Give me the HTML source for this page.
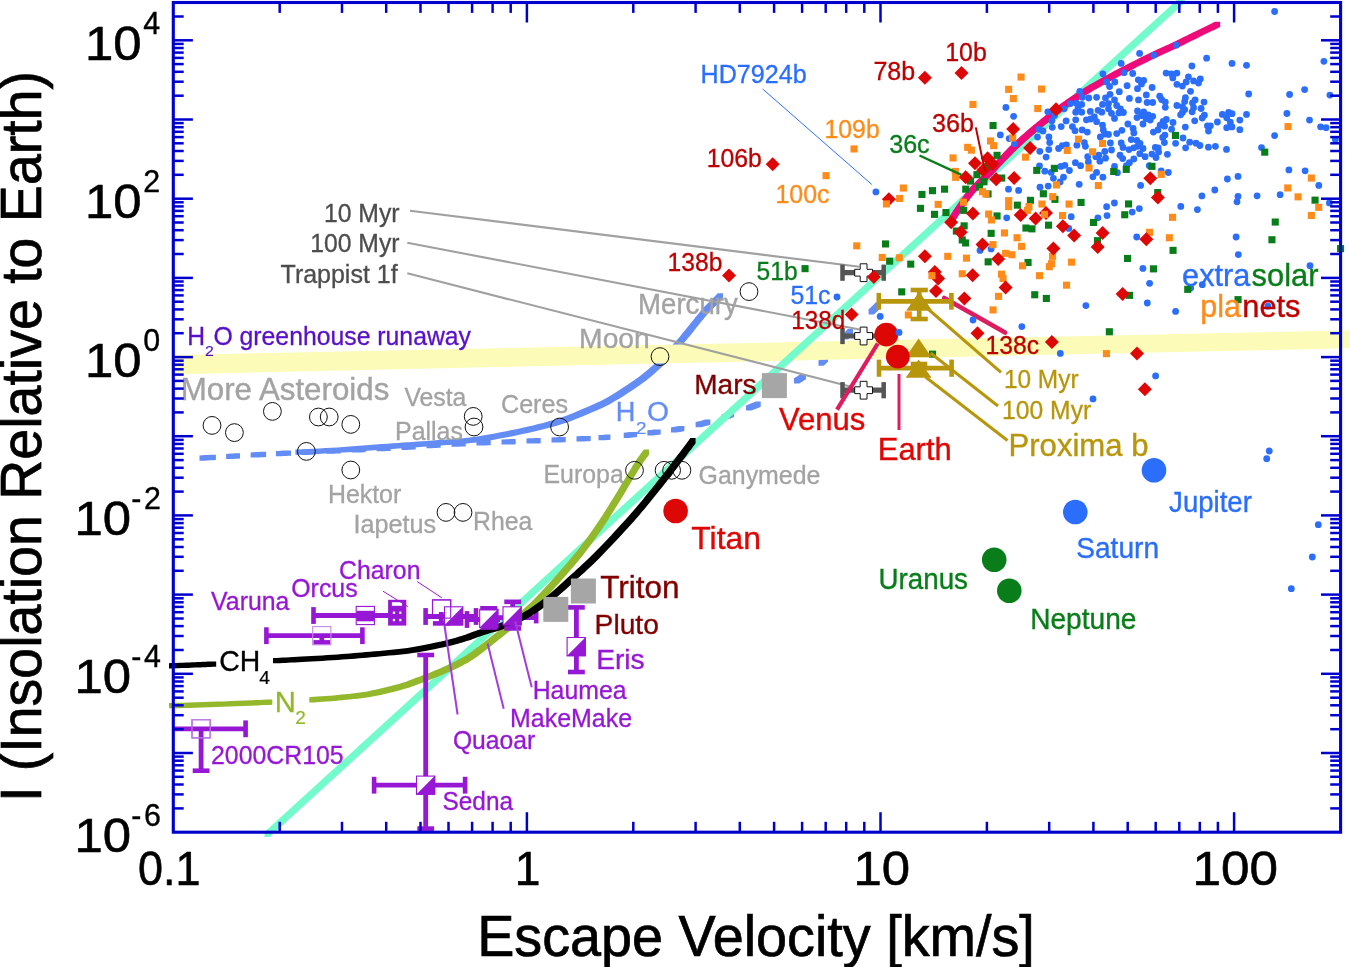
<!DOCTYPE html>
<html lang="en"><head><meta charset="utf-8"><title>Escape Velocity vs Insolation</title>
<style>html,body{margin:0;padding:0;background:#fff}svg{display:block}text{font-family:"Liberation Sans",Arial,Helvetica,sans-serif}</style></head><body>
<svg width="1350" height="967" viewBox="0 0 1350 967">
<rect width="1350" height="967" fill="#fff"/>
<path d="M295.4 454.8L295.4 449.6L298.6 449.4L302.8 449.2L307.7 449L313.3 448.7L319.2 448.4L325.4 448.1L331.5 447.8L337.4 447.4L343.3 447L349.6 446.6L356 446.1L362.5 445.6L369 445.1L375.4 444.6L381.6 444.1L387.4 443.7L392.9 443.3L398 443L403 442.6L407.8 442.3L412.5 442L417.4 441.6L422.3 441.3L427.4 440.9L432.7 440.5L438.1 440.1L443.5 439.8L449 439.4L454.6 439L460.2 438.5L465.8 437.9L471.4 437.2L477.1 436.4L482.9 435.5L488.8 434.5L494.7 433.4L500.5 432.3L506.3 431.2L511.9 430.1L517.4 428.9L522.7 427.7L528 426.6L533.1 425.4L538.2 424.1L543.1 422.9L547.9 421.6L552.5 420.3L557 418.9L561.3 417.5L565.5 416L569.5 414.4L573.4 412.9L577.2 411.3L580.7 409.8L584.2 408.3L587.4 406.9L590.3 405.7L592.9 404.6L595.2 403.6L597.4 402.6L599.6 401.6L601.9 400.4L604.5 399L607.4 397.4L610.7 395.4L614.4 393.2L618.4 390.7L622.4 388.1L626.4 385.5L630.4 382.8L634.1 380.3L637.4 377.9L640.4 375.7L643.1 373.6L645.6 371.5L648 369.5L650.3 367.5L652.6 365.4L655 363.2L657.4 360.9L659.9 358.4L662.4 355.9L664.9 353.3L667.4 350.6L669.9 347.9L672.4 345.1L674.9 342.3L677.4 339.4L680 336.4L682.7 333.1L685.5 329.7L688.3 326.2L690.9 322.9L693.4 319.9L695.6 317.1L697.4 314.9L698.8 313.2L699.8 311.9L700.6 311L701.1 310.3L701.5 309.8L702 309.3L702.5 308.7L703.1 308L703.8 307.2L704.6 306.5L705.3 305.8L706.1 305.1L706.9 304.3L707.7 303.6L708.5 302.8L709.4 301.9L710.4 300.9L711.5 299.7L712.8 298.4L714 297.2L715.2 295.9L716.2 294.8L717.1 293.9L717.8 293.2L723 293.2L723 298.4L722.3 299.1L721.4 300L720.4 301.1L719.2 302.4L718 303.6L716.7 304.9L715.6 306.1L714.6 307.1L713.7 308L712.9 308.8L712.1 309.5L711.3 310.3L710.5 311L709.8 311.7L709 312.4L708.3 313.2L707.7 313.9L707.2 314.5L706.7 315L706.3 315.5L705.8 316.2L705 317.1L704 318.4L702.6 320.1L700.8 322.3L698.6 325.1L696.1 328.1L693.5 331.4L690.7 334.9L687.9 338.3L685.2 341.6L682.6 344.6L680.1 347.5L677.6 350.3L675.1 353.1L672.6 355.8L670.1 358.5L667.6 361.1L665.1 363.6L662.6 366.1L660.2 368.4L657.8 370.6L655.5 372.7L653.2 374.7L650.8 376.7L648.3 378.8L645.6 380.9L642.6 383.1L639.3 385.5L635.6 388L631.6 390.7L627.6 393.3L623.6 395.9L619.6 398.4L615.9 400.6L612.6 402.6L609.7 404.2L607.1 405.6L604.8 406.8L602.6 407.8L600.4 408.8L598.1 409.8L595.5 410.9L592.6 412.1L589.4 413.5L585.9 415L582.4 416.5L578.6 418.1L574.7 419.6L570.7 421.2L566.5 422.7L562.2 424.1L557.7 425.5L553.1 426.8L548.3 428.1L543.4 429.3L538.3 430.6L533.2 431.8L527.9 432.9L522.6 434.1L517.1 435.3L511.5 436.4L505.7 437.5L499.9 438.6L494 439.7L488.1 440.7L482.3 441.6L476.6 442.4L471 443.1L465.4 443.7L459.8 444.2L454.2 444.6L448.7 445L443.3 445.3L437.9 445.7L432.6 446.1L427.5 446.5L422.6 446.8L417.7 447.2L413 447.5L408.2 447.8L403.2 448.2L398.1 448.5L392.6 448.9L386.8 449.3L380.6 449.8L374.2 450.3L367.7 450.8L361.2 451.3L354.8 451.8L348.5 452.2L342.6 452.6L336.7 453L330.6 453.3L324.4 453.6L318.5 453.9L312.9 454.2L308 454.4L303.8 454.6L300.6 454.8Z" fill="#648cf5"/>
<path d="M199.5 460.7L199.5 455.5L202.3 455.3L205.1 455.1L207.9 455L210.7 454.8L215.9 454.8L215.9 460L213.1 460.2L210.3 460.3L207.5 460.5L204.7 460.7Z" fill="#648cf5"/>
<path d="M226.1 459.1L226.1 453.9L228.3 453.7L230.5 453.6L232.6 453.5L234.8 453.3L240 453.3L240 458.5L237.8 458.7L235.7 458.8L233.5 458.9L231.3 459.1Z" fill="#648cf5"/>
<path d="M250.6 457.6L250.6 452.4L253.2 452.3L255.8 452.1L258.3 452L260.9 451.8L266.1 451.8L266.1 457L263.5 457.2L261 457.3L258.4 457.5L255.8 457.6Z" fill="#648cf5"/>
<path d="M275.9 456.2L275.9 451L278.4 450.9L280.8 450.7L283.3 450.6L285.8 450.5L291 450.5L291 455.7L288.5 455.8L286.1 455.9L283.6 456.1L281.1 456.2Z" fill="#648cf5"/>
<path d="M301.5 454.9L301.5 449.7L303.8 449.6L306 449.5L308.2 449.4L310.5 449.3L315.7 449.3L315.7 454.5L313.4 454.6L311.2 454.7L309 454.8L306.7 454.9Z" fill="#648cf5"/>
<path d="M326.5 453.8L326.5 448.6L328.8 448.5L331 448.4L333.2 448.3L335.5 448.2L340.7 448.2L340.7 453.4L338.4 453.5L336.2 453.6L334 453.7L331.7 453.8Z" fill="#648cf5"/>
<path d="M351.5 452.6L351.5 447.4L353.8 447.3L356 447.2L358.2 447.1L360.5 447L365.7 447L365.7 452.2L363.4 452.3L361.2 452.4L359 452.5L356.7 452.6Z" fill="#648cf5"/>
<path d="M376.5 451.3L376.5 446.1L378.8 446L381 445.9L383.2 445.8L385.5 445.7L390.7 445.7L390.7 450.9L388.4 451L386.2 451.1L384 451.2L381.7 451.3Z" fill="#648cf5"/>
<path d="M401.5 450L401.5 444.8L403.8 444.6L406 444.5L408.2 444.3L410.5 444.2L415.7 444.2L415.7 449.4L413.4 449.5L411.2 449.7L409 449.8L406.7 450Z" fill="#648cf5"/>
<path d="M426.5 448.3L426.5 443.1L428.8 442.9L431 442.8L433.2 442.6L435.5 442.5L440.7 442.5L440.7 447.7L438.4 447.8L436.2 448L434 448.1L431.7 448.3Z" fill="#648cf5"/>
<path d="M451.5 446.8L451.5 441.6L453.8 441.5L456 441.4L458.2 441.3L460.5 441.2L465.7 441.2L465.7 446.4L463.4 446.5L461.2 446.6L459 446.7L456.7 446.8Z" fill="#648cf5"/>
<path d="M476.5 445.6L476.5 440.4L478.8 440.3L481 440.2L483.2 440.1L485.5 440.1L490.7 440.1L490.7 445.3L488.4 445.3L486.2 445.4L484 445.5L481.7 445.6Z" fill="#648cf5"/>
<path d="M501.5 444.6L501.5 439.4L503.8 439.4L506 439.3L508.2 439.2L510.5 439.1L515.7 439.1L515.7 444.3L513.5 444.4L511.2 444.5L509 444.6L506.7 444.6Z" fill="#648cf5"/>
<path d="M526.5 443.6L526.5 438.4L528.8 438.3L531 438.2L533.2 438.2L535.5 438.1L540.7 438.1L540.7 443.3L538.5 443.4L536.2 443.4L534 443.5L531.7 443.6Z" fill="#648cf5"/>
<path d="M551.5 442.6L551.5 437.4L553.8 437.3L556 437.2L558.2 437.1L560.5 437L565.7 437L565.7 442.2L563.5 442.3L561.2 442.4L559 442.5L556.7 442.6Z" fill="#648cf5"/>
<path d="M576.5 441.5L576.5 436.3L578.8 436.2L581 436.1L583.2 436L585.5 435.9L590.7 435.9L590.7 441.1L588.5 441.2L586.2 441.3L584 441.4L581.7 441.5Z" fill="#648cf5"/>
<path d="M598.5 440.3L598.5 435.1L600.2 435L601.9 434.9L603.5 434.8L605.2 434.6L610.4 434.6L610.4 439.8L608.7 440L607.1 440.1L605.4 440.2L603.7 440.3Z" fill="#648cf5"/>
<path d="M623.7 438L623.7 432.8L625.7 432.6L627.8 432.3L629.8 432.1L631.8 431.9L637 431.9L637 437.1L635 437.3L633 437.5L630.9 437.8L628.9 438Z" fill="#648cf5"/>
<path d="M647.4 435.5L647.4 430.3L649.4 430.1L651.4 429.9L653.5 429.6L655.5 429.4L660.7 429.4L660.7 434.6L658.7 434.8L656.6 435.1L654.6 435.3L652.6 435.5Z" fill="#648cf5"/>
<path d="M671 432.6L671 427.4L673 427.1L675.1 426.7L677.1 426.3L679.2 425.9L684.4 425.9L684.4 431.1L682.4 431.5L680.3 431.9L678.2 432.3L676.2 432.6Z" fill="#648cf5"/>
<path d="M695.6 427.3L695.6 422.1L698 421.5L700.4 420.9L702.8 420.2L705.2 419.6L710.4 419.6L710.4 424.8L708 425.4L705.6 426.1L703.2 426.7L700.8 427.3Z" fill="#648cf5"/>
<path d="M721.5 419.7L721.5 414.5L723.3 413.9L725.1 413.3L727 412.6L728.8 411.9L734 411.9L734 417.1L732.2 417.8L730.4 418.5L728.5 419.1L726.7 419.7Z" fill="#648cf5"/>
<path d="M746 410.6L746 405.4L748.4 404.5L750.8 403.6L753.1 402.7L755.5 401.6L760.7 401.6L760.7 406.8L758.3 407.9L756 408.8L753.6 409.7L751.2 410.6Z" fill="#648cf5"/>
<path d="M794 383.4L794 378.2L795.7 377.2L797.4 376.2L799.1 375.1L800.8 374L806 374L806 379.2L804.3 380.3L802.6 381.4L800.9 382.4L799.2 383.4Z" fill="#648cf5"/>
<path d="M818.5 365.7L818.5 360.5L819.6 359.5L820.6 358.6L821.7 357.6L822.8 356.6L828 356.6L828 361.8L826.9 362.8L825.9 363.8L824.8 364.7L823.7 365.7Z" fill="#648cf5"/>
<path d="M843 339.4L843 334.2L844.2 332.9L845.4 331.5L846.6 330.2L847.8 328.9L853 328.9L853 334.1L851.8 335.4L850.6 336.7L849.4 338.1L848.2 339.4Z" fill="#648cf5"/>
<path d="M868.6 314.5L868.6 309.3L870.4 307.7L872.2 306.1L874 304.2L875.8 302.2L881 302.2L881 307.4L879.2 309.4L877.4 311.3L875.6 312.9L873.8 314.5Z" fill="#648cf5"/>
<line x1="514" y1="617.6" x2="536.2" y2="617.6" stroke="#9618d4" stroke-width="4.8" />
<line x1="536.2" y1="611.9" x2="536.2" y2="623.4" stroke="#9618d4" stroke-width="4.6" />
<path d="M174.5 355 L1350 330.4 L1350 348.2 L174.5 374.2Z" fill="#fcfcb8"/>
<path d="M264.5 837.1L264.5 831.9L1179.8 -2.6L1185 -2.6L1185 2.6L269.7 837.1Z" fill="#74fbcb"/>
<line x1="410" y1="210.7" x2="859.5" y2="266.8" stroke="#a0a0a0" stroke-width="2.1" />
<line x1="407.3" y1="242.7" x2="859.5" y2="329.5" stroke="#a0a0a0" stroke-width="2.1" />
<line x1="407.3" y1="273.3" x2="853" y2="387.2" stroke="#a0a0a0" stroke-width="2.1" />
<path d="M169 708.3L169 703.1L172.7 703L177.7 702.8L183.5 702.7L190.1 702.5L197 702.3L204.1 702.1L211 701.8L217.4 701.6L223.9 701.4L230.9 701.1L238.1 700.8L245.3 700.5L252 700.2L258.1 699.9L263.3 699.7L267.1 699.5L272.3 699.5L272.3 704.7L268.5 704.9L263.3 705.1L257.2 705.4L250.5 705.7L243.3 706L236.1 706.3L229.1 706.6L222.6 706.8L216.2 707L209.3 707.3L202.2 707.5L195.3 707.7L188.7 707.9L182.9 708L177.9 708.2L174.2 708.3Z" fill="#94b82c"/>
<path d="M309.3 702.4L309.3 697.2L311.5 697L314.3 696.8L317.7 696.6L321.5 696.3L325.5 696L329.6 695.7L333.6 695.4L337.4 695L341 694.6L344.7 694.3L348.4 693.9L352.2 693.5L356 693.1L359.8 692.6L363.6 692L367.4 691.4L371.3 690.6L375.4 689.8L379.6 688.8L383.8 687.8L387.9 686.8L391.8 685.8L395.5 684.8L398.8 683.9L401.7 683L404.3 682.2L406.7 681.4L408.9 680.6L411 679.8L413.1 679L415.4 678.1L417.8 677.2L420.5 676.2L423.3 675.1L426.1 674L429.1 672.9L432 671.7L434.8 670.6L437.5 669.5L440.1 668.4L442.5 667.3L444.9 666.3L447.2 665.2L449.4 664.2L451.5 663.2L453.6 662.2L455.5 661.2L457.4 660.2L459.1 659.3L460.6 658.5L462 657.8L463.4 657.1L464.7 656.3L466.2 655.4L467.8 654.3L469.6 653.1L471.6 651.7L473.8 650L476.1 648.3L478.5 646.5L481 644.5L483.6 642.5L486.2 640.5L488.8 638.4L491.5 636.3L494.2 634.1L497.1 631.9L499.9 629.5L502.8 627.2L505.7 624.8L508.6 622.4L511.5 619.9L514.3 617.4L517.2 614.9L520 612.4L522.9 609.8L525.8 607.1L528.6 604.5L531.5 601.7L534.3 598.9L537.1 596L540 593.1L542.8 590.1L545.6 587L548.5 583.9L551.3 580.8L554.2 577.6L557 574.4L559.9 571.1L562.8 567.8L565.7 564.4L568.7 561L571.6 557.5L574.4 554.1L577.2 550.7L579.8 547.4L582.3 544.1L584.7 540.9L587.1 537.7L589.3 534.6L591.5 531.4L593.7 528.3L595.9 525.1L598 522L600.1 518.8L602.2 515.7L604.2 512.5L606.2 509.3L608.2 506.2L610.1 503.1L612 500L613.9 497L615.7 494L617.6 491L619.4 488L621.1 485L622.8 482.1L624.5 479.4L626 476.7L627.5 474.3L628.9 472L630.1 469.9L631.3 468L632.4 466.1L633.5 464.3L634.6 462.7L635.6 461.1L636.6 459.5L637.6 458L638.7 456.4L639.8 455L640.8 453.6L641.7 452.4L642.6 451.3L643.3 450.3L643.8 449.6L649 449.6L649 454.8L648.5 455.5L647.8 456.5L646.9 457.6L646 458.8L645 460.2L643.9 461.6L642.8 463.2L641.8 464.7L640.8 466.3L639.8 467.9L638.7 469.5L637.6 471.3L636.5 473.2L635.3 475.1L634.1 477.2L632.7 479.5L631.2 481.9L629.7 484.6L628 487.3L626.3 490.2L624.6 493.2L622.8 496.2L620.9 499.2L619.1 502.2L617.2 505.2L615.3 508.3L613.4 511.4L611.4 514.5L609.4 517.7L607.4 520.9L605.3 524L603.2 527.2L601.1 530.3L598.9 533.5L596.7 536.6L594.5 539.8L592.3 542.9L589.9 546.1L587.5 549.3L585 552.6L582.4 555.9L579.6 559.3L576.8 562.7L573.9 566.2L570.9 569.6L568 573L565.1 576.3L562.2 579.6L559.4 582.8L556.5 586L553.7 589.1L550.9 592.2L548 595.3L545.2 598.3L542.3 601.2L539.5 604.1L536.7 606.9L533.8 609.7L531 612.3L528.1 615L525.2 617.6L522.4 620.1L519.5 622.6L516.7 625.1L513.8 627.6L510.9 630L508 632.4L505.1 634.7L502.3 637.1L499.4 639.3L496.7 641.5L494 643.6L491.4 645.7L488.8 647.7L486.2 649.7L483.7 651.7L481.3 653.5L479 655.2L476.8 656.9L474.8 658.3L473 659.5L471.4 660.6L469.9 661.5L468.6 662.3L467.2 663L465.8 663.7L464.3 664.5L462.6 665.4L460.7 666.4L458.8 667.4L456.7 668.4L454.6 669.4L452.4 670.4L450.1 671.5L447.7 672.5L445.3 673.6L442.7 674.7L440 675.8L437.2 676.9L434.3 678.1L431.3 679.2L428.5 680.3L425.7 681.4L423 682.4L420.6 683.3L418.3 684.2L416.2 685L414.1 685.8L411.9 686.6L409.5 687.4L406.9 688.2L404 689.1L400.7 690L397 691L393.1 692L389 693L384.8 694L380.6 695L376.5 695.8L372.6 696.6L368.8 697.2L365 697.8L361.2 698.3L357.4 698.7L353.6 699.1L349.9 699.5L346.2 699.8L342.6 700.2L338.8 700.6L334.8 700.9L330.7 701.2L326.7 701.5L322.9 701.8L319.5 702L316.7 702.2L314.5 702.4Z" fill="#94b82c"/>
<path d="M169 668.4L169 663.2L170.8 663.1L173.3 663L176.3 662.9L179.5 662.8L182.9 662.7L186.3 662.5L189.5 662.4L192.4 662.3L195.1 662.2L197.8 662.1L200.5 662L203.2 661.8L205.6 661.7L207.8 661.6L209.6 661.6L211 661.5L216.2 661.5L216.2 666.7L214.8 666.8L213 666.8L210.8 666.9L208.4 667L205.7 667.2L203 667.3L200.3 667.4L197.6 667.5L194.7 667.6L191.5 667.7L188.1 667.9L184.7 668L181.5 668.1L178.5 668.2L176 668.3L174.2 668.4Z" fill="#000"/>
<path d="M273 663.3L273 658.1L274.8 658L277 657.9L279.7 657.8L282.7 657.6L286 657.4L289.6 657.2L293.4 657L297.4 656.8L301.7 656.6L306.5 656.3L311.6 656L316.9 655.7L322.3 655.4L327.6 655L332.6 654.7L337.4 654.4L341.8 654.1L346 653.8L350 653.5L353.9 653.1L357.7 652.8L361.7 652.5L365.7 652.1L370 651.7L374.5 651.3L379.2 650.9L384 650.4L388.9 650L393.7 649.5L398.5 649L403 648.5L407.4 647.9L411.6 647.3L415.9 646.5L420 645.8L424 645L427.8 644.2L431.4 643.5L434.6 642.8L437.4 642.2L439.7 641.7L441.5 641.4L442.8 641.1L444 640.9L445 640.6L446.1 640.3L447.3 640L448.9 639.6L450.8 639.1L452.8 638.5L454.9 637.9L457.1 637.3L459.3 636.6L461.5 635.9L463.5 635.3L465.4 634.7L467 634.1L468.5 633.6L469.8 633.1L471 632.6L472.3 632.1L473.8 631.6L475.4 631L477.4 630.3L479.7 629.6L482.3 628.8L485.1 627.9L488.1 627.1L491.1 626.2L494.2 625.2L497.2 624.2L500.1 623.1L502.9 622L505.8 620.9L508.6 619.7L511.5 618.5L514.4 617.2L517.2 615.8L520.1 614.4L522.9 612.8L525.7 611.1L528.6 609.4L531.4 607.5L534.2 605.6L537.1 603.5L539.9 601.5L542.8 599.3L545.6 597.1L548.4 594.8L551.3 592.4L554.1 589.9L557 587.4L559.9 584.8L562.7 582.2L565.6 579.6L568.4 577L571.2 574.4L574.1 571.9L576.9 569.3L579.8 566.7L582.6 564.1L585.4 561.5L588.3 558.8L591.1 556L593.9 553.2L596.8 550.3L599.6 547.4L602.5 544.4L605.4 541.4L608.2 538.4L611.1 535.4L613.9 532.3L616.7 529.2L619.6 526.1L622.4 523L625.2 519.9L628.1 516.7L630.9 513.5L633.8 510.2L636.6 506.9L639.5 503.5L642.5 499.9L645.4 496.2L648.4 492.5L651.4 488.9L654.2 485.4L656.9 482L659.4 478.8L661.7 475.9L663.9 473.1L665.9 470.5L667.8 468.1L669.7 465.6L671.5 463.2L673.4 460.8L675.3 458.3L677.3 455.6L679.5 452.8L681.7 449.8L683.8 446.9L685.9 444.2L687.7 441.7L689.2 439.7L690.4 438.1L695.6 438.1L695.6 443.3L694.4 444.9L692.9 446.9L691.1 449.4L689 452.1L686.9 455L684.7 458L682.5 460.8L680.5 463.5L678.6 466L676.7 468.4L674.9 470.8L673 473.3L671.1 475.7L669.1 478.3L666.9 481.1L664.6 484L662.1 487.2L659.4 490.6L656.6 494.1L653.6 497.7L650.6 501.4L647.7 505.1L644.7 508.7L641.8 512.1L639 515.4L636.1 518.7L633.3 521.9L630.5 525.1L627.6 528.2L624.8 531.3L621.9 534.4L619.1 537.5L616.3 540.6L613.4 543.6L610.6 546.6L607.7 549.6L604.8 552.6L602 555.5L599.1 558.4L596.3 561.2L593.5 564L590.6 566.7L587.8 569.3L585 571.9L582.1 574.5L579.3 577.1L576.4 579.6L573.6 582.2L570.8 584.8L567.9 587.4L565.1 590L562.2 592.6L559.3 595.1L556.5 597.6L553.6 600L550.8 602.3L548 604.5L545.1 606.7L542.3 608.7L539.5 610.8L536.6 612.7L533.8 614.6L530.9 616.3L528.1 618L525.3 619.6L522.4 621L519.6 622.4L516.7 623.7L513.8 624.9L511 626.1L508.1 627.2L505.3 628.3L502.4 629.4L499.4 630.4L496.3 631.4L493.3 632.3L490.3 633.1L487.5 634L484.9 634.8L482.6 635.5L480.6 636.2L479 636.8L477.5 637.3L476.2 637.8L475 638.3L473.7 638.8L472.2 639.3L470.6 639.9L468.7 640.5L466.7 641.1L464.5 641.8L462.3 642.5L460.1 643.1L458 643.7L456 644.3L454.1 644.8L452.5 645.2L451.3 645.5L450.2 645.8L449.2 646.1L448 646.3L446.7 646.6L444.9 646.9L442.6 647.4L439.8 648L436.6 648.7L433 649.4L429.2 650.2L425.2 651L421.1 651.7L416.8 652.5L412.6 653.1L408.2 653.7L403.7 654.2L398.9 654.7L394.1 655.2L389.2 655.6L384.4 656.1L379.7 656.5L375.2 656.9L370.9 657.3L366.9 657.7L362.9 658L359.1 658.3L355.2 658.7L351.2 659L347 659.3L342.6 659.6L337.8 659.9L332.8 660.2L327.5 660.6L322.1 660.9L316.8 661.2L311.7 661.5L306.9 661.8L302.6 662L298.6 662.2L294.8 662.4L291.2 662.6L287.9 662.8L284.9 663L282.2 663.1L280 663.2L278.2 663.3Z" fill="#000"/>
<rect x="192" y="719.7" width="18.2" height="18.2" fill="none" stroke="#9618d4" stroke-width="1.1"/>
<line x1="173.5" y1="728.8" x2="245.6" y2="728.8" stroke="#9618d4" stroke-width="4.8" />
<line x1="245.6" y1="720.4" x2="245.6" y2="737.2" stroke="#9618d4" stroke-width="4.6" />
<line x1="201.1" y1="728.8" x2="201.1" y2="770.7" stroke="#9618d4" stroke-width="4.8" />
<line x1="192.7" y1="770.7" x2="209.5" y2="770.7" stroke="#9618d4" stroke-width="4.6" />
<rect x="192" y="719.7" width="18.2" height="18.2" fill="none" stroke="#c38be6" stroke-width="1.1"/>
<line x1="266.4" y1="635.7" x2="362.4" y2="635.7" stroke="#9618d4" stroke-width="4.8" />
<line x1="266.4" y1="627.3" x2="266.4" y2="644.1" stroke="#9618d4" stroke-width="4.6" />
<line x1="362.4" y1="627.3" x2="362.4" y2="644.1" stroke="#9618d4" stroke-width="4.6" />
<line x1="321.8" y1="635.7" x2="321.8" y2="642.4" stroke="#9618d4" stroke-width="4.8" />
<line x1="313.4" y1="642.4" x2="330.2" y2="642.4" stroke="#9618d4" stroke-width="4.6" />
<rect x="312.7" y="626.6" width="18.2" height="18.2" fill="none" stroke="#c38be6" stroke-width="1.1"/>
<line x1="313.5" y1="615.5" x2="392" y2="615.5" stroke="#9618d4" stroke-width="4.8" />
<line x1="313.5" y1="607.1" x2="313.5" y2="623.9" stroke="#9618d4" stroke-width="4.6" />
<rect x="356.5" y="610.8" width="17.6" height="10.5" fill="#9618d4"/>
<rect x="356.2" y="606.4" width="18.2" height="18.2" fill="none" stroke="#9618d4" stroke-width="1.1"/>
<rect x="388.1" y="599.8" width="18.2" height="25.8" fill="#9618d4"/>
<rect x="391.9" y="602.2" width="10.2" height="3.6" fill="#fff"/>
<rect x="392.8" y="611.6" width="2.3" height="2.3" fill="#fff"/>
<rect x="399.1" y="611.6" width="2.3" height="2.3" fill="#fff"/>
<rect x="392.8" y="618.9" width="2.3" height="2.3" fill="#fff"/>
<rect x="399.1" y="618.9" width="2.3" height="2.3" fill="#fff"/>
<rect x="432.5" y="599.9" width="18.2" height="18.2" fill="#fff" stroke="#9618d4" stroke-width="1.1"/>
<line x1="441.3" y1="612" x2="441.3" y2="623.4" stroke="#9618d4" stroke-width="4.8" />
<line x1="432.9" y1="623.4" x2="449.7" y2="623.4" stroke="#9618d4" stroke-width="4.6" />
<line x1="425.6" y1="616.5" x2="476" y2="616.5" stroke="#9618d4" stroke-width="4.8" />
<line x1="425.6" y1="608.1" x2="425.6" y2="624.9" stroke="#9618d4" stroke-width="4.6" />
<line x1="476" y1="608.1" x2="476" y2="624.9" stroke="#9618d4" stroke-width="4.6" />
<rect x="444.5" y="606.8" width="18.2" height="18.2" fill="#fff" stroke="#9618d4" stroke-width="1.1"/>
<path d="M463.2 606.3L463.2 625.5L444 625.5Z" fill="#9618d4"/>
<rect x="432.5" y="599.9" width="18.2" height="18.2" fill="none" stroke="#9618d4" stroke-width="1.1"/>
<line x1="467" y1="619.5" x2="500" y2="619.5" stroke="#9618d4" stroke-width="4.8" />
<line x1="467" y1="611.1" x2="467" y2="627.9" stroke="#9618d4" stroke-width="4.6" />
<line x1="488.8" y1="608.3" x2="488.8" y2="627.5" stroke="#9618d4" stroke-width="4.8" />
<line x1="480.4" y1="608.3" x2="497.2" y2="608.3" stroke="#9618d4" stroke-width="4.6" />
<line x1="480.4" y1="627.5" x2="497.2" y2="627.5" stroke="#9618d4" stroke-width="4.6" />
<rect x="479.7" y="609.3" width="18.2" height="18.2" fill="#fff" stroke="#9618d4" stroke-width="1.1"/>
<path d="M498.4 608.8L498.4 628L479.2 628Z" fill="#9618d4"/>
<line x1="480.5" y1="608.3" x2="497.1" y2="608.3" stroke="#9618d4" stroke-width="4.4" />
<line x1="497" y1="617.6" x2="514" y2="617.6" stroke="#9618d4" stroke-width="4.8" />
<line x1="512.7" y1="601.8" x2="512.7" y2="628.4" stroke="#9618d4" stroke-width="4.8" />
<line x1="504.3" y1="601.8" x2="521.1" y2="601.8" stroke="#9618d4" stroke-width="4.6" />
<line x1="504.3" y1="628.4" x2="521.1" y2="628.4" stroke="#9618d4" stroke-width="4.6" />
<rect x="503" y="606.8" width="18.2" height="18.2" fill="#fff" stroke="#9618d4" stroke-width="1.1"/>
<path d="M521.7 606.3L521.7 625.5L502.5 625.5Z" fill="#9618d4"/>
<line x1="576.4" y1="607.4" x2="576.4" y2="672" stroke="#9618d4" stroke-width="4.8" />
<line x1="568" y1="607.4" x2="584.8" y2="607.4" stroke="#9618d4" stroke-width="4.6" />
<line x1="568" y1="672" x2="584.8" y2="672" stroke="#9618d4" stroke-width="4.6" />
<rect x="567.1" y="637.5" width="18.2" height="18.2" fill="#fff" stroke="#9618d4" stroke-width="1.1"/>
<path d="M585.8 637L585.8 656.2L566.6 656.2Z" fill="#9618d4"/>
<line x1="425.7" y1="655" x2="425.7" y2="828.6" stroke="#9618d4" stroke-width="4.8" />
<line x1="417.3" y1="655" x2="434.1" y2="655" stroke="#9618d4" stroke-width="4.6" />
<line x1="417.3" y1="828.6" x2="434.1" y2="828.6" stroke="#9618d4" stroke-width="4.6" />
<line x1="374.1" y1="785.2" x2="465.1" y2="785.2" stroke="#9618d4" stroke-width="4.8" />
<line x1="374.1" y1="776.8" x2="374.1" y2="793.6" stroke="#9618d4" stroke-width="4.6" />
<line x1="465.1" y1="776.8" x2="465.1" y2="793.6" stroke="#9618d4" stroke-width="4.6" />
<rect x="416.5" y="776.1" width="18.2" height="18.2" fill="#fff" stroke="#9618d4" stroke-width="1.1"/>
<path d="M435.2 775.6L435.2 794.8L416 794.8Z" fill="#9618d4"/>
<line x1="417.2" y1="581.6" x2="441.8" y2="597.8" stroke="#9618d4" stroke-width="1.0" />
<line x1="383" y1="591.2" x2="407.8" y2="606.6" stroke="#9618d4" stroke-width="1.0" />
<line x1="444.5" y1="625.5" x2="457.6" y2="714.5" stroke="#a43cdc" stroke-width="2.0" />
<line x1="487.6" y1="643.5" x2="503.7" y2="708.7" stroke="#a43cdc" stroke-width="2.0" />
<line x1="515.2" y1="621.5" x2="531.7" y2="687.2" stroke="#a43cdc" stroke-width="2.0" />
<path d="M949.2 222.1L949.2 216.9L949.9 215.8L950.8 214.4L951.9 212.7L953.1 210.8L954.4 208.8L955.8 206.8L957.1 204.8L958.4 202.9L959.7 201.1L961 199.1L962.4 197.2L963.9 195.3L965.3 193.3L966.7 191.5L968.1 189.7L969.4 188.1L970.7 186.6L972 185.2L973.2 183.9L974.5 182.7L975.7 181.5L976.9 180.3L978.2 179.1L979.4 177.9L980.7 176.6L981.9 175.4L983.1 174.1L984.4 172.8L985.6 171.6L986.9 170.3L988.2 169L989.5 167.6L990.8 166.2L992.1 164.8L993.5 163.3L994.8 161.9L996.2 160.4L997.6 158.9L999 157.4L1000.4 155.9L1001.9 154.4L1003.4 152.8L1004.9 151.3L1006.4 149.7L1008 148.1L1009.5 146.6L1011.1 145.1L1012.6 143.6L1014.1 142.2L1015.6 140.8L1017 139.5L1018.5 138.2L1019.9 136.8L1021.4 135.5L1022.9 134.2L1024.4 132.9L1025.9 131.6L1027.4 130.3L1028.8 129.1L1030.3 127.8L1031.9 126.5L1033.5 125.1L1035.3 123.7L1037.2 122.1L1039.3 120.4L1041.5 118.6L1043.9 116.7L1046.3 114.7L1048.8 112.8L1051.3 110.8L1053.9 108.8L1056.4 106.9L1058.9 105L1061.5 103.1L1064.2 101.2L1066.9 99.3L1069.5 97.5L1072.2 95.7L1074.8 93.9L1077.4 92.2L1079.9 90.6L1082.4 89L1084.8 87.5L1087.3 86.1L1089.7 84.6L1092.2 83.2L1094.8 81.7L1097.4 80.2L1100.1 78.7L1102.8 77.2L1105.5 75.7L1108.2 74.2L1111.1 72.7L1114 71.1L1117.1 69.5L1120.4 67.8L1124 66L1127.8 64L1131.8 61.9L1135.9 59.9L1140.1 57.8L1144.1 55.8L1147.9 53.9L1151.4 52.2L1154.6 50.7L1157.6 49.3L1160.5 48L1163.3 46.7L1165.9 45.6L1168.5 44.4L1171.1 43.2L1173.7 42L1176.3 40.8L1178.8 39.5L1181.2 38.3L1183.6 37.1L1186 35.9L1188.4 34.7L1190.9 33.5L1193.4 32.2L1196.2 30.9L1199.2 29.4L1202.3 27.9L1205.4 26.4L1208.4 25L1211.1 23.7L1213.3 22.6L1215 21.8L1220.2 21.8L1220.2 27L1218.5 27.8L1216.3 28.9L1213.6 30.2L1210.6 31.6L1207.5 33.1L1204.4 34.6L1201.4 36.1L1198.6 37.4L1196.1 38.7L1193.6 39.9L1191.2 41.1L1188.8 42.3L1186.4 43.5L1184 44.7L1181.5 46L1178.9 47.2L1176.3 48.4L1173.7 49.6L1171.1 50.8L1168.5 51.9L1165.7 53.2L1162.8 54.5L1159.8 55.9L1156.6 57.4L1153.1 59.1L1149.3 61L1145.3 63L1141.1 65.1L1137 67.1L1133 69.2L1129.2 71.2L1125.6 73L1122.3 74.7L1119.2 76.3L1116.3 77.9L1113.4 79.4L1110.7 80.9L1108 82.4L1105.3 83.9L1102.6 85.4L1100 86.9L1097.4 88.4L1094.9 89.8L1092.5 91.3L1090 92.7L1087.6 94.2L1085.1 95.8L1082.6 97.4L1080 99.1L1077.4 100.9L1074.7 102.7L1072 104.5L1069.4 106.4L1066.7 108.3L1064.1 110.2L1061.6 112.1L1059.1 114L1056.5 116L1054 118L1051.5 119.9L1049.1 121.9L1046.7 123.8L1044.5 125.6L1042.4 127.3L1040.5 128.9L1038.7 130.3L1037.1 131.7L1035.5 133L1034 134.3L1032.6 135.5L1031.1 136.8L1029.6 138.1L1028.1 139.4L1026.6 140.7L1025.1 142L1023.7 143.4L1022.2 144.7L1020.8 146L1019.3 147.4L1017.8 148.8L1016.3 150.3L1014.7 151.8L1013.2 153.3L1011.6 154.9L1010.1 156.5L1008.6 158L1007.1 159.6L1005.6 161.1L1004.2 162.6L1002.8 164.1L1001.4 165.6L1000 167.1L998.7 168.5L997.3 170L996 171.4L994.7 172.8L993.4 174.2L992.1 175.5L990.8 176.8L989.6 178L988.3 179.3L987.1 180.6L985.9 181.8L984.6 183.1L983.4 184.3L982.1 185.5L980.9 186.7L979.7 187.9L978.4 189.1L977.2 190.4L975.9 191.8L974.6 193.3L973.3 194.9L971.9 196.7L970.5 198.5L969.1 200.5L967.6 202.4L966.2 204.3L964.9 206.3L963.6 208.1L962.3 210L961 212L959.6 214L958.3 216L957.1 217.9L956 219.6L955.1 221L954.4 222.1Z" fill="#ee0a78"/>
<rect x="761.9" y="373.1" width="25" height="25" fill="#a6a6a6"/>
<rect x="543.3" y="596.9" width="25" height="25" fill="#a6a6a6"/>
<rect x="570.9" y="578.5" width="25" height="25" fill="#a6a6a6"/>
<circle cx="212" cy="425.4" r="8.9" fill="none" stroke="#111" stroke-width="1.0"/>
<circle cx="234.4" cy="432.6" r="8.9" fill="none" stroke="#111" stroke-width="1.0"/>
<circle cx="272.4" cy="411.4" r="8.9" fill="none" stroke="#111" stroke-width="1.0"/>
<circle cx="318.4" cy="417" r="8.9" fill="none" stroke="#111" stroke-width="1.0"/>
<circle cx="329.2" cy="417" r="8.9" fill="none" stroke="#111" stroke-width="1.0"/>
<circle cx="350.8" cy="424.4" r="8.9" fill="none" stroke="#111" stroke-width="1.0"/>
<circle cx="306.4" cy="451.4" r="8.9" fill="none" stroke="#111" stroke-width="1.0"/>
<circle cx="350.8" cy="470" r="8.9" fill="none" stroke="#111" stroke-width="1.0"/>
<circle cx="473.2" cy="416.4" r="8.9" fill="none" stroke="#111" stroke-width="1.0"/>
<circle cx="474" cy="427" r="8.9" fill="none" stroke="#111" stroke-width="1.0"/>
<circle cx="559.6" cy="427" r="8.9" fill="none" stroke="#111" stroke-width="1.0"/>
<circle cx="634.5" cy="470.3" r="8.9" fill="none" stroke="#111" stroke-width="1.0"/>
<circle cx="664.1" cy="470.3" r="8.9" fill="none" stroke="#111" stroke-width="1.0"/>
<circle cx="671.6" cy="470.3" r="8.9" fill="none" stroke="#111" stroke-width="1.0"/>
<circle cx="681.9" cy="470.3" r="8.9" fill="none" stroke="#111" stroke-width="1.0"/>
<circle cx="446" cy="512.4" r="8.9" fill="none" stroke="#111" stroke-width="1.0"/>
<circle cx="463" cy="512.4" r="8.9" fill="none" stroke="#111" stroke-width="1.0"/>
<circle cx="660" cy="356.6" r="8.9" fill="none" stroke="#111" stroke-width="1.0"/>
<circle cx="749" cy="291.6" r="8.9" fill="none" stroke="#111" stroke-width="1.0"/>
<line x1="842.5" y1="272.7" x2="883.7" y2="272.7" stroke="#555555" stroke-width="5.2" />
<line x1="842.5" y1="264.6" x2="842.5" y2="280.8" stroke="#555555" stroke-width="4.5" />
<line x1="883.7" y1="264.6" x2="883.7" y2="280.8" stroke="#555555" stroke-width="4.5" />
<path d="M860.2 263.8 h6.8 v5.5 h5.5 v6.8 h-5.5 v5.5 h-6.8 v-5.5 h-5.5 v-6.8 h5.5 Z" fill="#fff" stroke="#111" stroke-width="1"/>
<line x1="842.5" y1="336" x2="883.7" y2="336" stroke="#555555" stroke-width="5.2" />
<line x1="842.5" y1="327.9" x2="842.5" y2="344.1" stroke="#555555" stroke-width="4.5" />
<line x1="883.7" y1="327.9" x2="883.7" y2="344.1" stroke="#555555" stroke-width="4.5" />
<path d="M860.2 327.1 h6.8 v5.5 h5.5 v6.8 h-5.5 v5.5 h-6.8 v-5.5 h-5.5 v-6.8 h5.5 Z" fill="#fff" stroke="#111" stroke-width="1"/>
<line x1="842.5" y1="390.2" x2="883.7" y2="390.2" stroke="#555555" stroke-width="5.2" />
<line x1="842.5" y1="382.1" x2="842.5" y2="398.3" stroke="#555555" stroke-width="4.5" />
<line x1="883.7" y1="382.1" x2="883.7" y2="398.3" stroke="#555555" stroke-width="4.5" />
<path d="M860.2 381.3 h6.8 v5.5 h5.5 v6.8 h-5.5 v5.5 h-6.8 v-5.5 h-5.5 v-6.8 h5.5 Z" fill="#fff" stroke="#111" stroke-width="1"/>
<line x1="877.8" y1="343.5" x2="837" y2="409.6" stroke="#de1c60" stroke-width="4.2" />
<line x1="899" y1="374" x2="899" y2="430" stroke="#de1c60" stroke-width="3" />
<line x1="944.2" y1="298" x2="1005" y2="332.5" stroke="#de1c60" stroke-width="4.6" stroke-linecap="round"/>
<circle cx="1005.9" cy="107.4" r="3.4" fill="#2a6efb"/>
<circle cx="1013.6" cy="116.3" r="3.4" fill="#2a6efb"/>
<circle cx="1000.3" cy="134.9" r="3.4" fill="#2a6efb"/>
<circle cx="1009.2" cy="138.6" r="3.4" fill="#2a6efb"/>
<circle cx="1014.5" cy="143.8" r="3.4" fill="#2a6efb"/>
<circle cx="1039" cy="129.3" r="3.4" fill="#2a6efb"/>
<circle cx="1037.5" cy="137.1" r="3.4" fill="#2a6efb"/>
<circle cx="1039.8" cy="151.3" r="3.4" fill="#2a6efb"/>
<circle cx="1039.5" cy="166" r="3.4" fill="#2a6efb"/>
<circle cx="1008.5" cy="189.2" r="3.4" fill="#2a6efb"/>
<circle cx="1018.6" cy="190.4" r="3.4" fill="#2a6efb"/>
<circle cx="1047.8" cy="111.8" r="3.4" fill="#2a6efb"/>
<circle cx="1064.2" cy="108.8" r="3.4" fill="#2a6efb"/>
<circle cx="1054.5" cy="115.5" r="3.4" fill="#2a6efb"/>
<circle cx="1051.9" cy="120.8" r="3.4" fill="#2a6efb"/>
<circle cx="1070.5" cy="103.6" r="3.4" fill="#2a6efb"/>
<circle cx="1076.5" cy="103.2" r="3.4" fill="#2a6efb"/>
<circle cx="1081.7" cy="104.4" r="3.4" fill="#2a6efb"/>
<circle cx="1078" cy="108.1" r="3.4" fill="#2a6efb"/>
<circle cx="1075.7" cy="112.2" r="3.4" fill="#2a6efb"/>
<circle cx="1081.7" cy="112.2" r="3.4" fill="#2a6efb"/>
<circle cx="1079.8" cy="91.3" r="3.4" fill="#2a6efb"/>
<circle cx="1082.4" cy="97.3" r="3.4" fill="#2a6efb"/>
<circle cx="1088.8" cy="98" r="3.4" fill="#2a6efb"/>
<circle cx="1096.6" cy="97.3" r="3.4" fill="#2a6efb"/>
<circle cx="1102.9" cy="73.8" r="3.4" fill="#2a6efb"/>
<circle cx="1106.6" cy="82" r="3.4" fill="#2a6efb"/>
<circle cx="1109.6" cy="86.5" r="3.4" fill="#2a6efb"/>
<circle cx="1114.8" cy="82" r="3.4" fill="#2a6efb"/>
<circle cx="1121.2" cy="63.4" r="3.4" fill="#2a6efb"/>
<circle cx="1124.1" cy="72.7" r="3.4" fill="#2a6efb"/>
<circle cx="1132.7" cy="73.5" r="3.4" fill="#2a6efb"/>
<circle cx="1139.6" cy="53.4" r="3.4" fill="#2a6efb"/>
<circle cx="1127.1" cy="85.7" r="3.4" fill="#2a6efb"/>
<circle cx="1119.3" cy="91.7" r="3.4" fill="#2a6efb"/>
<circle cx="1110" cy="94.3" r="3.4" fill="#2a6efb"/>
<circle cx="1105.5" cy="98" r="3.4" fill="#2a6efb"/>
<circle cx="1114.5" cy="99.9" r="3.4" fill="#2a6efb"/>
<circle cx="1129.4" cy="98.4" r="3.4" fill="#2a6efb"/>
<circle cx="1138.3" cy="79.8" r="3.4" fill="#2a6efb"/>
<circle cx="1137.5" cy="88.7" r="3.4" fill="#2a6efb"/>
<circle cx="1138.5" cy="99.9" r="3.4" fill="#2a6efb"/>
<circle cx="1102.5" cy="104.4" r="3.4" fill="#2a6efb"/>
<circle cx="1108.5" cy="103.6" r="3.4" fill="#2a6efb"/>
<circle cx="1116.7" cy="105.5" r="3.4" fill="#2a6efb"/>
<circle cx="1120.4" cy="108.8" r="3.4" fill="#2a6efb"/>
<circle cx="1123.4" cy="112.5" r="3.4" fill="#2a6efb"/>
<circle cx="1118.9" cy="112.9" r="3.4" fill="#2a6efb"/>
<circle cx="1108.5" cy="108.8" r="3.4" fill="#2a6efb"/>
<circle cx="1111.5" cy="113.3" r="3.4" fill="#2a6efb"/>
<circle cx="1114.5" cy="118.4" r="3.4" fill="#2a6efb"/>
<circle cx="1098.1" cy="110.3" r="3.4" fill="#2a6efb"/>
<circle cx="1101.8" cy="112.2" r="3.4" fill="#2a6efb"/>
<circle cx="1090.3" cy="111.4" r="3.4" fill="#2a6efb"/>
<circle cx="1094.4" cy="117" r="3.4" fill="#2a6efb"/>
<circle cx="1086.4" cy="119.8" r="3.4" fill="#2a6efb"/>
<circle cx="1075.7" cy="119.8" r="3.4" fill="#2a6efb"/>
<circle cx="1066.1" cy="120.9" r="3.4" fill="#2a6efb"/>
<circle cx="1137.5" cy="111" r="3.4" fill="#2a6efb"/>
<circle cx="1137" cy="117.6" r="3.4" fill="#2a6efb"/>
<circle cx="1176.3" cy="45.2" r="3.4" fill="#2a6efb"/>
<circle cx="1153.8" cy="55.2" r="3.4" fill="#2a6efb"/>
<circle cx="1206.6" cy="58.2" r="3.4" fill="#2a6efb"/>
<circle cx="1232" cy="63.4" r="3.4" fill="#2a6efb"/>
<circle cx="1191.9" cy="66" r="3.4" fill="#2a6efb"/>
<circle cx="1166.1" cy="73.1" r="3.4" fill="#2a6efb"/>
<circle cx="1171.3" cy="73.8" r="3.4" fill="#2a6efb"/>
<circle cx="1176.9" cy="73.1" r="3.4" fill="#2a6efb"/>
<circle cx="1172.8" cy="77.9" r="3.4" fill="#2a6efb"/>
<circle cx="1188.4" cy="76.8" r="3.4" fill="#2a6efb"/>
<circle cx="1200.3" cy="79" r="3.4" fill="#2a6efb"/>
<circle cx="1193.6" cy="80.9" r="3.4" fill="#2a6efb"/>
<circle cx="1198.5" cy="83.1" r="3.4" fill="#2a6efb"/>
<circle cx="1186.2" cy="82" r="3.4" fill="#2a6efb"/>
<circle cx="1176.9" cy="84.3" r="3.4" fill="#2a6efb"/>
<circle cx="1182.4" cy="86.1" r="3.4" fill="#2a6efb"/>
<circle cx="1143.7" cy="80.5" r="3.4" fill="#2a6efb"/>
<circle cx="1141.5" cy="83.9" r="3.4" fill="#2a6efb"/>
<circle cx="1152.1" cy="87.5" r="3.4" fill="#2a6efb"/>
<circle cx="1190.5" cy="91.3" r="3.4" fill="#2a6efb"/>
<circle cx="1146.3" cy="94.9" r="3.4" fill="#2a6efb"/>
<circle cx="1159.7" cy="96.2" r="3.4" fill="#2a6efb"/>
<circle cx="1161.6" cy="99.5" r="3.4" fill="#2a6efb"/>
<circle cx="1165.3" cy="102.1" r="3.4" fill="#2a6efb"/>
<circle cx="1165.3" cy="107.3" r="3.4" fill="#2a6efb"/>
<circle cx="1147.1" cy="102.5" r="3.4" fill="#2a6efb"/>
<circle cx="1152.7" cy="102.5" r="3.4" fill="#2a6efb"/>
<circle cx="1185.4" cy="97.7" r="3.4" fill="#2a6efb"/>
<circle cx="1184.7" cy="101.4" r="3.4" fill="#2a6efb"/>
<circle cx="1195.1" cy="99.9" r="3.4" fill="#2a6efb"/>
<circle cx="1192.5" cy="102.9" r="3.4" fill="#2a6efb"/>
<circle cx="1204" cy="102.1" r="3.4" fill="#2a6efb"/>
<circle cx="1176.9" cy="105.5" r="3.4" fill="#2a6efb"/>
<circle cx="1182.4" cy="106.6" r="3.4" fill="#2a6efb"/>
<circle cx="1184.7" cy="109.6" r="3.4" fill="#2a6efb"/>
<circle cx="1182.4" cy="112.5" r="3.4" fill="#2a6efb"/>
<circle cx="1180.6" cy="114.8" r="3.4" fill="#2a6efb"/>
<circle cx="1193.6" cy="107.7" r="3.4" fill="#2a6efb"/>
<circle cx="1192.1" cy="111.8" r="3.4" fill="#2a6efb"/>
<circle cx="1201.1" cy="108.5" r="3.4" fill="#2a6efb"/>
<circle cx="1204.4" cy="115.2" r="3.4" fill="#2a6efb"/>
<circle cx="1202.2" cy="118" r="3.4" fill="#2a6efb"/>
<circle cx="1194.7" cy="120.8" r="3.4" fill="#2a6efb"/>
<circle cx="1222.3" cy="114.4" r="3.4" fill="#2a6efb"/>
<circle cx="1228.6" cy="112.5" r="3.4" fill="#2a6efb"/>
<circle cx="1232" cy="113.7" r="3.4" fill="#2a6efb"/>
<circle cx="1226.7" cy="117.8" r="3.4" fill="#2a6efb"/>
<circle cx="1217.4" cy="122" r="3.4" fill="#2a6efb"/>
<circle cx="1230.3" cy="122.2" r="3.4" fill="#2a6efb"/>
<circle cx="1239.8" cy="120.1" r="3.4" fill="#2a6efb"/>
<circle cx="1143.7" cy="111.8" r="3.4" fill="#2a6efb"/>
<circle cx="1148.2" cy="114.8" r="3.4" fill="#2a6efb"/>
<circle cx="1152.7" cy="116.3" r="3.4" fill="#2a6efb"/>
<circle cx="1141.5" cy="115.5" r="3.4" fill="#2a6efb"/>
<circle cx="1146" cy="118.5" r="3.4" fill="#2a6efb"/>
<circle cx="1150.2" cy="120.1" r="3.4" fill="#2a6efb"/>
<circle cx="1166.3" cy="119.5" r="3.4" fill="#2a6efb"/>
<circle cx="1163.1" cy="121.5" r="3.4" fill="#2a6efb"/>
<circle cx="1173" cy="122.5" r="3.4" fill="#2a6efb"/>
<circle cx="1052.3" cy="127.3" r="3.4" fill="#2a6efb"/>
<circle cx="1043" cy="131" r="3.4" fill="#2a6efb"/>
<circle cx="1061.2" cy="126.6" r="3.4" fill="#2a6efb"/>
<circle cx="1072.4" cy="126.6" r="3.4" fill="#2a6efb"/>
<circle cx="1075" cy="130.7" r="3.4" fill="#2a6efb"/>
<circle cx="1082.1" cy="129.9" r="3.4" fill="#2a6efb"/>
<circle cx="1087.3" cy="132.1" r="3.4" fill="#2a6efb"/>
<circle cx="1090.6" cy="119" r="3.4" fill="#2a6efb"/>
<circle cx="1096.6" cy="121.7" r="3.4" fill="#2a6efb"/>
<circle cx="1102.5" cy="125.1" r="3.4" fill="#2a6efb"/>
<circle cx="1103.3" cy="129.9" r="3.4" fill="#2a6efb"/>
<circle cx="1104.8" cy="134" r="3.4" fill="#2a6efb"/>
<circle cx="1108.5" cy="134.4" r="3.4" fill="#2a6efb"/>
<circle cx="1100.3" cy="137" r="3.4" fill="#2a6efb"/>
<circle cx="1127.9" cy="124" r="3.4" fill="#2a6efb"/>
<circle cx="1133.1" cy="128.4" r="3.4" fill="#2a6efb"/>
<circle cx="1133.8" cy="132.9" r="3.4" fill="#2a6efb"/>
<circle cx="1121.9" cy="130.3" r="3.4" fill="#2a6efb"/>
<circle cx="1116.7" cy="133.6" r="3.4" fill="#2a6efb"/>
<circle cx="1131.2" cy="139.6" r="3.4" fill="#2a6efb"/>
<circle cx="1136.8" cy="140.3" r="3.4" fill="#2a6efb"/>
<circle cx="1137.5" cy="146.3" r="3.4" fill="#2a6efb"/>
<circle cx="1121.2" cy="142.9" r="3.4" fill="#2a6efb"/>
<circle cx="1123" cy="147.4" r="3.4" fill="#2a6efb"/>
<circle cx="1129" cy="149.6" r="3.4" fill="#2a6efb"/>
<circle cx="1133.8" cy="147.8" r="3.4" fill="#2a6efb"/>
<circle cx="1110.4" cy="142.9" r="3.4" fill="#2a6efb"/>
<circle cx="1111.5" cy="150" r="3.4" fill="#2a6efb"/>
<circle cx="1104.8" cy="151.5" r="3.4" fill="#2a6efb"/>
<circle cx="1105.5" cy="158.2" r="3.4" fill="#2a6efb"/>
<circle cx="1099.9" cy="161.2" r="3.4" fill="#2a6efb"/>
<circle cx="1098.8" cy="155.2" r="3.4" fill="#2a6efb"/>
<circle cx="1095.8" cy="156.7" r="3.4" fill="#2a6efb"/>
<circle cx="1048.9" cy="137" r="3.4" fill="#2a6efb"/>
<circle cx="1049.7" cy="142.6" r="3.4" fill="#2a6efb"/>
<circle cx="1048.8" cy="149.6" r="3.4" fill="#2a6efb"/>
<circle cx="1046.1" cy="157.1" r="3.4" fill="#2a6efb"/>
<circle cx="1058.6" cy="148.5" r="3.4" fill="#2a6efb"/>
<circle cx="1062.3" cy="145.6" r="3.4" fill="#2a6efb"/>
<circle cx="1066.4" cy="144.8" r="3.4" fill="#2a6efb"/>
<circle cx="1076.9" cy="145.2" r="3.4" fill="#2a6efb"/>
<circle cx="1084.3" cy="142.6" r="3.4" fill="#2a6efb"/>
<circle cx="1085.4" cy="146.3" r="3.4" fill="#2a6efb"/>
<circle cx="1087.7" cy="156.7" r="3.4" fill="#2a6efb"/>
<circle cx="1088.4" cy="161.9" r="3.4" fill="#2a6efb"/>
<circle cx="1075.4" cy="162.7" r="3.4" fill="#2a6efb"/>
<circle cx="1080.6" cy="165.7" r="3.4" fill="#2a6efb"/>
<circle cx="1060.8" cy="166.4" r="3.4" fill="#2a6efb"/>
<circle cx="1064.9" cy="165.3" r="3.4" fill="#2a6efb"/>
<circle cx="1069.4" cy="170.5" r="3.4" fill="#2a6efb"/>
<circle cx="1044.8" cy="171.2" r="3.4" fill="#2a6efb"/>
<circle cx="1051.2" cy="172.4" r="3.4" fill="#2a6efb"/>
<circle cx="1053.4" cy="178.3" r="3.4" fill="#2a6efb"/>
<circle cx="1063.5" cy="177.2" r="3.4" fill="#2a6efb"/>
<circle cx="1060.1" cy="182" r="3.4" fill="#2a6efb"/>
<circle cx="1048.2" cy="186.1" r="3.4" fill="#2a6efb"/>
<circle cx="1040" cy="187.2" r="3.4" fill="#2a6efb"/>
<circle cx="1079.2" cy="184.3" r="3.4" fill="#2a6efb"/>
<circle cx="1096.6" cy="172.4" r="3.4" fill="#2a6efb"/>
<circle cx="1092.9" cy="176.8" r="3.4" fill="#2a6efb"/>
<circle cx="1102.9" cy="177.2" r="3.4" fill="#2a6efb"/>
<circle cx="1114.5" cy="166.4" r="3.4" fill="#2a6efb"/>
<circle cx="1117.4" cy="172.7" r="3.4" fill="#2a6efb"/>
<circle cx="1120" cy="155.2" r="3.4" fill="#2a6efb"/>
<circle cx="1122.7" cy="158.6" r="3.4" fill="#2a6efb"/>
<circle cx="1133.8" cy="159" r="3.4" fill="#2a6efb"/>
<circle cx="1129.4" cy="162.7" r="3.4" fill="#2a6efb"/>
<circle cx="1126.4" cy="165.7" r="3.4" fill="#2a6efb"/>
<circle cx="1139.8" cy="153.7" r="3.4" fill="#2a6efb"/>
<circle cx="1140.6" cy="185.4" r="3.4" fill="#2a6efb"/>
<circle cx="1143" cy="124" r="3.4" fill="#2a6efb"/>
<circle cx="1153.4" cy="132.1" r="3.4" fill="#2a6efb"/>
<circle cx="1157.9" cy="129.9" r="3.4" fill="#2a6efb"/>
<circle cx="1160.1" cy="125.1" r="3.4" fill="#2a6efb"/>
<circle cx="1164.6" cy="126.2" r="3.4" fill="#2a6efb"/>
<circle cx="1171.6" cy="129.2" r="3.4" fill="#2a6efb"/>
<circle cx="1164.9" cy="135.1" r="3.4" fill="#2a6efb"/>
<circle cx="1162.7" cy="137.4" r="3.4" fill="#2a6efb"/>
<circle cx="1164.4" cy="142.6" r="3.4" fill="#2a6efb"/>
<circle cx="1185.3" cy="127.1" r="3.4" fill="#2a6efb"/>
<circle cx="1183" cy="138" r="3.4" fill="#2a6efb"/>
<circle cx="1175.6" cy="143.3" r="3.4" fill="#2a6efb"/>
<circle cx="1185.6" cy="147.8" r="3.4" fill="#2a6efb"/>
<circle cx="1189.7" cy="142.2" r="3.4" fill="#2a6efb"/>
<circle cx="1196" cy="143.2" r="3.4" fill="#2a6efb"/>
<circle cx="1199.9" cy="145.5" r="3.4" fill="#2a6efb"/>
<circle cx="1208.4" cy="147.2" r="3.4" fill="#2a6efb"/>
<circle cx="1215.4" cy="146.3" r="3.4" fill="#2a6efb"/>
<circle cx="1226.5" cy="149.4" r="3.4" fill="#2a6efb"/>
<circle cx="1207.4" cy="125.8" r="3.4" fill="#2a6efb"/>
<circle cx="1210.4" cy="125.8" r="3.4" fill="#2a6efb"/>
<circle cx="1208.5" cy="131" r="3.4" fill="#2a6efb"/>
<circle cx="1226.7" cy="127.7" r="3.4" fill="#2a6efb"/>
<circle cx="1232" cy="126.9" r="3.4" fill="#2a6efb"/>
<circle cx="1239.8" cy="129.7" r="3.4" fill="#2a6efb"/>
<circle cx="1140" cy="143.3" r="3.4" fill="#2a6efb"/>
<circle cx="1143" cy="148.5" r="3.4" fill="#2a6efb"/>
<circle cx="1145.1" cy="156.7" r="3.4" fill="#2a6efb"/>
<circle cx="1155.3" cy="147.4" r="3.4" fill="#2a6efb"/>
<circle cx="1158.2" cy="147.8" r="3.4" fill="#2a6efb"/>
<circle cx="1158.6" cy="151.9" r="3.4" fill="#2a6efb"/>
<circle cx="1151.9" cy="154.1" r="3.4" fill="#2a6efb"/>
<circle cx="1156" cy="157.5" r="3.4" fill="#2a6efb"/>
<circle cx="1167.4" cy="154.3" r="3.4" fill="#2a6efb"/>
<circle cx="1149.3" cy="165.7" r="3.4" fill="#2a6efb"/>
<circle cx="1161.2" cy="170.9" r="3.4" fill="#2a6efb"/>
<circle cx="1168.3" cy="172.5" r="3.4" fill="#2a6efb"/>
<circle cx="1227.4" cy="179" r="3.4" fill="#2a6efb"/>
<circle cx="1238" cy="176.4" r="3.4" fill="#2a6efb"/>
<circle cx="1214.8" cy="190" r="3.4" fill="#2a6efb"/>
<circle cx="1274.6" cy="11.5" r="3.4" fill="#2a6efb"/>
<circle cx="1246.5" cy="65.3" r="3.4" fill="#2a6efb"/>
<circle cx="1323.9" cy="61.3" r="3.4" fill="#2a6efb"/>
<circle cx="1248.7" cy="94" r="3.4" fill="#2a6efb"/>
<circle cx="1289.6" cy="94.5" r="3.4" fill="#2a6efb"/>
<circle cx="1304.6" cy="89.6" r="3.4" fill="#2a6efb"/>
<circle cx="1329.9" cy="95.1" r="3.4" fill="#2a6efb"/>
<circle cx="1246.5" cy="114.4" r="3.4" fill="#2a6efb"/>
<circle cx="1286.9" cy="113.5" r="3.4" fill="#2a6efb"/>
<circle cx="1309.5" cy="120.1" r="3.4" fill="#2a6efb"/>
<circle cx="1320.6" cy="126.8" r="3.4" fill="#2a6efb"/>
<circle cx="1326.1" cy="127.7" r="3.4" fill="#2a6efb"/>
<circle cx="1335.4" cy="139.4" r="3.4" fill="#2a6efb"/>
<circle cx="1274.6" cy="135.6" r="3.4" fill="#2a6efb"/>
<circle cx="1261.5" cy="147.6" r="3.4" fill="#2a6efb"/>
<circle cx="1288.9" cy="169.9" r="3.4" fill="#2a6efb"/>
<circle cx="1305.1" cy="170.8" r="3.4" fill="#2a6efb"/>
<circle cx="1318.8" cy="185.4" r="3.4" fill="#2a6efb"/>
<circle cx="1238" cy="196.5" r="3.4" fill="#2a6efb"/>
<circle cx="1237" cy="201.8" r="3.4" fill="#2a6efb"/>
<circle cx="1257.1" cy="195.8" r="3.4" fill="#2a6efb"/>
<circle cx="1280.1" cy="194.7" r="3.4" fill="#2a6efb"/>
<circle cx="1329.4" cy="202.9" r="3.4" fill="#2a6efb"/>
<circle cx="1236.1" cy="237" r="3.4" fill="#2a6efb"/>
<circle cx="1238.3" cy="254.6" r="3.4" fill="#2a6efb"/>
<circle cx="1310" cy="265.7" r="3.4" fill="#2a6efb"/>
<circle cx="1267.9" cy="306.2" r="3.4" fill="#2a6efb"/>
<circle cx="1114.4" cy="203" r="3.4" fill="#2a6efb"/>
<circle cx="1106.6" cy="206.7" r="3.4" fill="#2a6efb"/>
<circle cx="1107" cy="215.6" r="3.4" fill="#2a6efb"/>
<circle cx="1097.9" cy="217.8" r="3.4" fill="#2a6efb"/>
<circle cx="1071.2" cy="216.7" r="3.4" fill="#2a6efb"/>
<circle cx="1068.8" cy="228.4" r="3.4" fill="#2a6efb"/>
<circle cx="1132.2" cy="212.1" r="3.4" fill="#2a6efb"/>
<circle cx="1139.3" cy="208.6" r="3.4" fill="#2a6efb"/>
<circle cx="1180.8" cy="206.4" r="3.4" fill="#2a6efb"/>
<circle cx="1197.4" cy="209.6" r="3.4" fill="#2a6efb"/>
<circle cx="1201.9" cy="195.9" r="3.4" fill="#2a6efb"/>
<circle cx="1136.7" cy="237" r="3.4" fill="#2a6efb"/>
<circle cx="1142.9" cy="268.4" r="3.4" fill="#2a6efb"/>
<circle cx="1149.6" cy="283.3" r="3.4" fill="#2a6efb"/>
<circle cx="1147.3" cy="303" r="3.4" fill="#2a6efb"/>
<circle cx="1085.9" cy="305.6" r="3.4" fill="#2a6efb"/>
<circle cx="1175.6" cy="311.4" r="3.4" fill="#2a6efb"/>
<circle cx="1202.3" cy="284.7" r="3.4" fill="#2a6efb"/>
<circle cx="1190.7" cy="288" r="3.4" fill="#2a6efb"/>
<circle cx="875.9" cy="191.9" r="3.4" fill="#2a6efb"/>
<circle cx="1006.7" cy="217.8" r="3.4" fill="#2a6efb"/>
<circle cx="991.1" cy="248.9" r="3.4" fill="#2a6efb"/>
<circle cx="980" cy="250.4" r="3.4" fill="#2a6efb"/>
<circle cx="837" cy="297" r="3.4" fill="#2a6efb"/>
<circle cx="880.2" cy="316.4" r="3.4" fill="#2a6efb"/>
<circle cx="973" cy="320" r="3.4" fill="#2a6efb"/>
<circle cx="1021.8" cy="326.6" r="3.4" fill="#2a6efb"/>
<circle cx="1060.3" cy="353.4" r="3.4" fill="#2a6efb"/>
<circle cx="1155.6" cy="375.9" r="3.4" fill="#2a6efb"/>
<circle cx="1093" cy="398.9" r="3.4" fill="#2a6efb"/>
<circle cx="1269.3" cy="451" r="3.4" fill="#2a6efb"/>
<circle cx="1266.7" cy="458.7" r="3.4" fill="#2a6efb"/>
<circle cx="1318.3" cy="524.7" r="3.4" fill="#2a6efb"/>
<circle cx="1312.3" cy="557" r="3.4" fill="#2a6efb"/>
<circle cx="1291.3" cy="588.7" r="3.4" fill="#2a6efb"/>
<rect x="989.5" y="122" width="7.1" height="7.1" fill="#087d1a"/>
<rect x="993.5" y="151.8" width="7.1" height="7.1" fill="#087d1a"/>
<rect x="973.4" y="171.1" width="7.1" height="7.1" fill="#087d1a"/>
<rect x="980.4" y="178.2" width="7.1" height="7.1" fill="#087d1a"/>
<rect x="976" y="183.4" width="7.1" height="7.1" fill="#087d1a"/>
<rect x="998.2" y="174.5" width="7.1" height="7.1" fill="#087d1a"/>
<rect x="967" y="177.5" width="7.1" height="7.1" fill="#087d1a"/>
<rect x="941" y="185.6" width="7.1" height="7.1" fill="#087d1a"/>
<rect x="962.2" y="185.6" width="7.1" height="7.1" fill="#087d1a"/>
<rect x="1033.2" y="166.8" width="7.1" height="7.1" fill="#087d1a"/>
<rect x="984.2" y="162.6" width="7.1" height="7.1" fill="#087d1a"/>
<rect x="1050.8" y="164.8" width="7.1" height="7.1" fill="#087d1a"/>
<rect x="1110.2" y="167.9" width="7.1" height="7.1" fill="#087d1a"/>
<rect x="1122.7" y="165.8" width="7.1" height="7.1" fill="#087d1a"/>
<rect x="1171.9" y="131.9" width="7.1" height="7.1" fill="#087d1a"/>
<rect x="1148.4" y="162.8" width="7.1" height="7.1" fill="#087d1a"/>
<rect x="918.4" y="190.9" width="7.1" height="7.1" fill="#087d1a"/>
<rect x="928.9" y="187.1" width="7.1" height="7.1" fill="#087d1a"/>
<rect x="916.9" y="204.8" width="7.1" height="7.1" fill="#087d1a"/>
<rect x="931" y="210.8" width="7.1" height="7.1" fill="#087d1a"/>
<rect x="942.4" y="209" width="7.1" height="7.1" fill="#087d1a"/>
<rect x="960.2" y="206.8" width="7.1" height="7.1" fill="#087d1a"/>
<rect x="993.5" y="212.4" width="7.1" height="7.1" fill="#087d1a"/>
<rect x="960.6" y="222.3" width="7.1" height="7.1" fill="#087d1a"/>
<rect x="952.8" y="227.5" width="7.1" height="7.1" fill="#087d1a"/>
<rect x="958.7" y="236.4" width="7.1" height="7.1" fill="#087d1a"/>
<rect x="962.1" y="239.4" width="7.1" height="7.1" fill="#087d1a"/>
<rect x="987.6" y="229.8" width="7.1" height="7.1" fill="#087d1a"/>
<rect x="1013.8" y="201.6" width="7.1" height="7.1" fill="#087d1a"/>
<rect x="1026.9" y="196.8" width="7.1" height="7.1" fill="#087d1a"/>
<rect x="1022.4" y="224.5" width="7.1" height="7.1" fill="#087d1a"/>
<rect x="1028.4" y="225.3" width="7.1" height="7.1" fill="#087d1a"/>
<rect x="984.6" y="258.3" width="7.1" height="7.1" fill="#087d1a"/>
<rect x="1024.5" y="258.9" width="7.1" height="7.1" fill="#087d1a"/>
<rect x="882" y="240.4" width="7.1" height="7.1" fill="#087d1a"/>
<rect x="886.1" y="257.6" width="7.1" height="7.1" fill="#087d1a"/>
<rect x="907.2" y="260.6" width="7.1" height="7.1" fill="#087d1a"/>
<rect x="898.2" y="288.3" width="7.1" height="7.1" fill="#087d1a"/>
<rect x="1031.2" y="291.2" width="7.1" height="7.1" fill="#087d1a"/>
<rect x="984.5" y="190.4" width="7.1" height="7.1" fill="#087d1a"/>
<rect x="1039.8" y="190.2" width="7.1" height="7.1" fill="#087d1a"/>
<rect x="1051.4" y="195.8" width="7.1" height="7.1" fill="#087d1a"/>
<rect x="1077.5" y="198.9" width="7.1" height="7.1" fill="#087d1a"/>
<rect x="1045" y="221.6" width="7.1" height="7.1" fill="#087d1a"/>
<rect x="1089.9" y="218.9" width="7.1" height="7.1" fill="#087d1a"/>
<rect x="1093.9" y="237.1" width="7.1" height="7.1" fill="#087d1a"/>
<rect x="1125" y="200.4" width="7.1" height="7.1" fill="#087d1a"/>
<rect x="1121.2" y="211.2" width="7.1" height="7.1" fill="#087d1a"/>
<rect x="1154.2" y="189" width="7.1" height="7.1" fill="#087d1a"/>
<rect x="1169.5" y="246.8" width="7.1" height="7.1" fill="#087d1a"/>
<rect x="1124" y="254.9" width="7.1" height="7.1" fill="#087d1a"/>
<rect x="1149.9" y="265.3" width="7.1" height="7.1" fill="#087d1a"/>
<rect x="1184.2" y="285.8" width="7.1" height="7.1" fill="#087d1a"/>
<rect x="1126" y="291.8" width="7.1" height="7.1" fill="#087d1a"/>
<rect x="1042.8" y="294.9" width="7.1" height="7.1" fill="#087d1a"/>
<rect x="1261.2" y="148.6" width="7.1" height="7.1" fill="#087d1a"/>
<rect x="1311.5" y="196.6" width="7.1" height="7.1" fill="#087d1a"/>
<rect x="1271.7" y="218.5" width="7.1" height="7.1" fill="#087d1a"/>
<rect x="1268.4" y="236.2" width="7.1" height="7.1" fill="#087d1a"/>
<rect x="1337" y="245.1" width="7.1" height="7.1" fill="#087d1a"/>
<rect x="1234.5" y="296.1" width="7.1" height="7.1" fill="#087d1a"/>
<rect x="1105.8" y="328.2" width="7.1" height="7.1" fill="#087d1a"/>
<rect x="929" y="350.6" width="7.1" height="7.1" fill="#087d1a"/>
<rect x="801.5" y="265.1" width="7.1" height="7.1" fill="#087d1a"/>
<rect x="1017.5" y="73.5" width="7.1" height="7.1" fill="#ff8c1a"/>
<rect x="1005.1" y="85.8" width="7.1" height="7.1" fill="#ff8c1a"/>
<rect x="1009.8" y="95" width="7.1" height="7.1" fill="#ff8c1a"/>
<rect x="969.4" y="100.9" width="7.1" height="7.1" fill="#ff8c1a"/>
<rect x="1038" y="85.5" width="7.1" height="7.1" fill="#ff8c1a"/>
<rect x="1034.2" y="105" width="7.1" height="7.1" fill="#ff8c1a"/>
<rect x="1009.1" y="134.4" width="7.1" height="7.1" fill="#ff8c1a"/>
<rect x="987" y="137.4" width="7.1" height="7.1" fill="#ff8c1a"/>
<rect x="990.1" y="142.1" width="7.1" height="7.1" fill="#ff8c1a"/>
<rect x="964.1" y="143.8" width="7.1" height="7.1" fill="#ff8c1a"/>
<rect x="967.8" y="146.6" width="7.1" height="7.1" fill="#ff8c1a"/>
<rect x="949.5" y="154.4" width="7.1" height="7.1" fill="#ff8c1a"/>
<rect x="1022" y="153.6" width="7.1" height="7.1" fill="#ff8c1a"/>
<rect x="951.8" y="167.9" width="7.1" height="7.1" fill="#ff8c1a"/>
<rect x="952.1" y="173.8" width="7.1" height="7.1" fill="#ff8c1a"/>
<rect x="978.9" y="188.2" width="7.1" height="7.1" fill="#ff8c1a"/>
<rect x="982.4" y="190.5" width="7.1" height="7.1" fill="#ff8c1a"/>
<rect x="1075" y="135.6" width="7.1" height="7.1" fill="#ff8c1a"/>
<rect x="1099" y="139.9" width="7.1" height="7.1" fill="#ff8c1a"/>
<rect x="1063.7" y="146.9" width="7.1" height="7.1" fill="#ff8c1a"/>
<rect x="1089" y="148.3" width="7.1" height="7.1" fill="#ff8c1a"/>
<rect x="1085.5" y="164.4" width="7.1" height="7.1" fill="#ff8c1a"/>
<rect x="1053" y="181.4" width="7.1" height="7.1" fill="#ff8c1a"/>
<rect x="1094.8" y="182" width="7.1" height="7.1" fill="#ff8c1a"/>
<rect x="1157.7" y="170.8" width="7.1" height="7.1" fill="#ff8c1a"/>
<rect x="899.8" y="184.5" width="7.1" height="7.1" fill="#ff8c1a"/>
<rect x="896.1" y="194.9" width="7.1" height="7.1" fill="#ff8c1a"/>
<rect x="959.9" y="198.6" width="7.1" height="7.1" fill="#ff8c1a"/>
<rect x="934.6" y="200.8" width="7.1" height="7.1" fill="#ff8c1a"/>
<rect x="1005.1" y="197.1" width="7.1" height="7.1" fill="#ff8c1a"/>
<rect x="1005.1" y="203.1" width="7.1" height="7.1" fill="#ff8c1a"/>
<rect x="1025.4" y="203.1" width="7.1" height="7.1" fill="#ff8c1a"/>
<rect x="1023.9" y="206.8" width="7.1" height="7.1" fill="#ff8c1a"/>
<rect x="985.1" y="210.5" width="7.1" height="7.1" fill="#ff8c1a"/>
<rect x="987.9" y="216.4" width="7.1" height="7.1" fill="#ff8c1a"/>
<rect x="1000.9" y="229.4" width="7.1" height="7.1" fill="#ff8c1a"/>
<rect x="1013.5" y="234.2" width="7.1" height="7.1" fill="#ff8c1a"/>
<rect x="1018" y="242.8" width="7.1" height="7.1" fill="#ff8c1a"/>
<rect x="989.4" y="241.1" width="7.1" height="7.1" fill="#ff8c1a"/>
<rect x="1002.1" y="249.8" width="7.1" height="7.1" fill="#ff8c1a"/>
<rect x="1008.4" y="251.2" width="7.1" height="7.1" fill="#ff8c1a"/>
<rect x="1019" y="262.3" width="7.1" height="7.1" fill="#ff8c1a"/>
<rect x="853.2" y="242.3" width="7.1" height="7.1" fill="#ff8c1a"/>
<rect x="878.7" y="253.9" width="7.1" height="7.1" fill="#ff8c1a"/>
<rect x="895.8" y="254.2" width="7.1" height="7.1" fill="#ff8c1a"/>
<rect x="944.2" y="252.8" width="7.1" height="7.1" fill="#ff8c1a"/>
<rect x="962.9" y="254.6" width="7.1" height="7.1" fill="#ff8c1a"/>
<rect x="958.7" y="270.2" width="7.1" height="7.1" fill="#ff8c1a"/>
<rect x="998" y="270.6" width="7.1" height="7.1" fill="#ff8c1a"/>
<rect x="999.5" y="274.9" width="7.1" height="7.1" fill="#ff8c1a"/>
<rect x="995" y="292.8" width="7.1" height="7.1" fill="#ff8c1a"/>
<rect x="1036" y="272.1" width="7.1" height="7.1" fill="#ff8c1a"/>
<rect x="1049.2" y="193.1" width="7.1" height="7.1" fill="#ff8c1a"/>
<rect x="1038.4" y="200.5" width="7.1" height="7.1" fill="#ff8c1a"/>
<rect x="1065.5" y="200.5" width="7.1" height="7.1" fill="#ff8c1a"/>
<rect x="1059" y="212" width="7.1" height="7.1" fill="#ff8c1a"/>
<rect x="1169" y="213.8" width="7.1" height="7.1" fill="#ff8c1a"/>
<rect x="1146" y="228.8" width="7.1" height="7.1" fill="#ff8c1a"/>
<rect x="1165.8" y="234.2" width="7.1" height="7.1" fill="#ff8c1a"/>
<rect x="1049" y="252.8" width="7.1" height="7.1" fill="#ff8c1a"/>
<rect x="1048" y="260.1" width="7.1" height="7.1" fill="#ff8c1a"/>
<rect x="1045.8" y="263.1" width="7.1" height="7.1" fill="#ff8c1a"/>
<rect x="1068" y="258.6" width="7.1" height="7.1" fill="#ff8c1a"/>
<rect x="1063" y="281.6" width="7.1" height="7.1" fill="#ff8c1a"/>
<rect x="1284.5" y="123" width="7.1" height="7.1" fill="#ff8c1a"/>
<rect x="1307.8" y="174.5" width="7.1" height="7.1" fill="#ff8c1a"/>
<rect x="1284.2" y="184.4" width="7.1" height="7.1" fill="#ff8c1a"/>
<rect x="1294.5" y="193.3" width="7.1" height="7.1" fill="#ff8c1a"/>
<rect x="1315.2" y="203.8" width="7.1" height="7.1" fill="#ff8c1a"/>
<rect x="1307.8" y="211.9" width="7.1" height="7.1" fill="#ff8c1a"/>
<rect x="1102.9" y="350.1" width="7.1" height="7.1" fill="#ff8c1a"/>
<rect x="989.5" y="306.4" width="7.1" height="7.1" fill="#ff8c1a"/>
<rect x="904.8" y="311.4" width="7.1" height="7.1" fill="#ff8c1a"/>
<rect x="850.5" y="145.4" width="7.1" height="7.1" fill="#ff8c1a"/>
<rect x="822.5" y="172.1" width="7.1" height="7.1" fill="#ff8c1a"/>
<line x1="878.8" y1="301.3" x2="951.4" y2="301.3" stroke="#b8960c" stroke-width="4.7" />
<line x1="878.8" y1="292.9" x2="878.8" y2="309.7" stroke="#b8960c" stroke-width="4.6" />
<line x1="951.4" y1="292.9" x2="951.4" y2="309.7" stroke="#b8960c" stroke-width="4.6" />
<line x1="919.2" y1="290" x2="919.2" y2="319" stroke="#b8960c" stroke-width="4.7" />
<line x1="910.6" y1="290" x2="927.8" y2="290" stroke="#b8960c" stroke-width="4.6" />
<line x1="910.6" y1="319" x2="927.8" y2="319" stroke="#b8960c" stroke-width="4.6" />
<path d="M919.2 291.5L932.2 310.8L906.2 310.8Z" fill="#b8960c"/>
<path d="M918.6 338.4L931.6 357.2L905.6 357.2Z" fill="#b8960c"/>
<line x1="879" y1="368.2" x2="951.6" y2="368.2" stroke="#b8960c" stroke-width="4.7" />
<line x1="879" y1="359.6" x2="879" y2="376.8" stroke="#b8960c" stroke-width="4.6" />
<line x1="951.6" y1="359.6" x2="951.6" y2="376.8" stroke="#b8960c" stroke-width="4.6" />
<rect x="910.7" y="361.7" width="16.6" height="5" fill="#b8960c"/>
<path d="M918.6 359.4L931.6 377.8L905.6 377.8Z" fill="#b8960c"/>
<line x1="928" y1="309" x2="1001" y2="372.4" stroke="#b8960c" stroke-width="3" />
<line x1="930.5" y1="353" x2="998" y2="406" stroke="#b8960c" stroke-width="3" />
<line x1="925.5" y1="377" x2="1007.5" y2="440.5" stroke="#b8960c" stroke-width="3" />
<path d="M924.9 70.8L931.9 77.8L924.9 84.8L917.9 77.8Z" fill="#dd0806"/>
<path d="M961.5 66L968.5 73L961.5 80L954.5 73Z" fill="#dd0806"/>
<path d="M1013.2 122.1L1020.2 129.1L1013.2 136.1L1006.2 129.1Z" fill="#dd0806"/>
<path d="M1056 102.3L1063 109.3L1056 116.3L1049 109.3Z" fill="#dd0806"/>
<path d="M1030.1 140.9L1037.1 147.9L1030.1 154.9L1023.1 147.9Z" fill="#dd0806"/>
<path d="M987.7 151.3L994.7 158.3L987.7 165.3L980.7 158.3Z" fill="#dd0806"/>
<path d="M992.5 156.9L999.5 163.9L992.5 170.9L985.5 163.9Z" fill="#dd0806"/>
<path d="M975 156.2L982 163.2L975 170.2L968 163.2Z" fill="#dd0806"/>
<path d="M983.2 163.3L990.2 170.3L983.2 177.3L976.2 170.3Z" fill="#dd0806"/>
<path d="M965.7 170.3L972.7 177.3L965.7 184.3L958.7 177.3Z" fill="#dd0806"/>
<path d="M996.2 172.2L1003.2 179.2L996.2 186.2L989.2 179.2Z" fill="#dd0806"/>
<path d="M1014.1 171.1L1021.1 178.1L1014.1 185.1L1007.1 178.1Z" fill="#dd0806"/>
<path d="M1150.3 171.3L1157.3 178.3L1150.3 185.3L1143.3 178.3Z" fill="#dd0806"/>
<path d="M888.9 192.3L895.9 199.3L888.9 206.3L881.9 199.3Z" fill="#dd0806"/>
<path d="M972.9 206.6L979.9 213.6L972.9 220.6L965.9 213.6Z" fill="#dd0806"/>
<path d="M951.1 215.2L958.1 222.2L951.1 229.2L944.1 222.2Z" fill="#dd0806"/>
<path d="M960.7 225.3L967.7 232.3L960.7 239.3L953.7 232.3Z" fill="#dd0806"/>
<path d="M1020.7 208.1L1027.7 215.1L1020.7 222.1L1013.7 215.1Z" fill="#dd0806"/>
<path d="M1035.6 211.5L1042.6 218.5L1035.6 225.5L1028.6 218.5Z" fill="#dd0806"/>
<path d="M982.5 237.4L989.5 244.4L982.5 251.4L975.5 244.4Z" fill="#dd0806"/>
<path d="M924.9 249.3L931.9 256.3L924.9 263.3L917.9 256.3Z" fill="#dd0806"/>
<path d="M998.2 252L1005.2 259L998.2 266L991.2 259Z" fill="#dd0806"/>
<path d="M934.8 264.9L941.8 271.9L934.8 278.9L927.8 271.9Z" fill="#dd0806"/>
<path d="M938.1 271.5L945.1 278.5L938.1 285.5L931.1 278.5Z" fill="#dd0806"/>
<path d="M972.6 268.3L979.6 275.3L972.6 282.3L965.6 275.3Z" fill="#dd0806"/>
<path d="M873.8 270L880.8 277L873.8 284L866.8 277Z" fill="#dd0806"/>
<path d="M936 284.1L943 291.1L936 298.1L929 291.1Z" fill="#dd0806"/>
<path d="M1005.6 280.4L1012.6 287.4L1005.6 294.4L998.6 287.4Z" fill="#dd0806"/>
<path d="M964.4 291.5L971.4 298.5L964.4 305.5L957.4 298.5Z" fill="#dd0806"/>
<path d="M1046 205.9L1053 212.9L1046 219.9L1039 212.9Z" fill="#dd0806"/>
<path d="M1062.9 219.2L1069.9 226.2L1062.9 233.2L1055.9 226.2Z" fill="#dd0806"/>
<path d="M1074.1 228.6L1081.1 235.6L1074.1 242.6L1067.1 235.6Z" fill="#dd0806"/>
<path d="M1053.4 241.4L1060.4 248.4L1053.4 255.4L1046.4 248.4Z" fill="#dd0806"/>
<path d="M1102.6 225.9L1109.6 232.9L1102.6 239.9L1095.6 232.9Z" fill="#dd0806"/>
<path d="M1097.7 240L1104.7 247L1097.7 254L1090.7 247Z" fill="#dd0806"/>
<path d="M1157.9 190.5L1164.9 197.5L1157.9 204.5L1150.9 197.5Z" fill="#dd0806"/>
<path d="M1146.3 232.3L1153.3 239.3L1146.3 246.3L1139.3 239.3Z" fill="#dd0806"/>
<path d="M1122.6 287.1L1129.6 294.1L1122.6 301.1L1115.6 294.1Z" fill="#dd0806"/>
<path d="M1051.9 335.1L1058.9 342.1L1051.9 349.1L1044.9 342.1Z" fill="#dd0806"/>
<path d="M1137 346.4L1144 353.4L1137 360.4L1130 353.4Z" fill="#dd0806"/>
<path d="M1144.9 382.3L1151.9 389.3L1144.9 396.3L1137.9 389.3Z" fill="#dd0806"/>
<path d="M851.6 307.5L858.6 314.5L851.6 321.5L844.6 314.5Z" fill="#dd0806"/>
<path d="M977.5 326.3L984.5 333.3L977.5 340.3L970.5 333.3Z" fill="#dd0806"/>
<path d="M729 268.6L736 275.6L729 282.6L722 275.6Z" fill="#dd0806"/>
<path d="M772.7 157.3L779.7 164.3L772.7 171.3L765.7 164.3Z" fill="#dd0806"/>
<rect x="882.9" y="200.4" width="7.1" height="7.1" fill="#ff8c1a"/>
<rect x="1041" y="210.8" width="7.1" height="7.1" fill="#ff8c1a"/>
<rect x="928.4" y="272.1" width="7.1" height="7.1" fill="#ff8c1a"/>
<circle cx="897.8" cy="356.7" r="11.9" fill="#dd0806"/>
<circle cx="886.3" cy="334.7" r="11.9" fill="#dd0806"/>
<circle cx="899" cy="332.4" r="3.4" fill="#2a6efb"/>
<circle cx="675.6" cy="511" r="12.3" fill="#dd0806"/>
<circle cx="1154" cy="470.3" r="12.3" fill="#2a6efb"/>
<circle cx="1075.3" cy="512" r="12.3" fill="#2a6efb"/>
<circle cx="994.2" cy="559.8" r="12.3" fill="#087d1a"/>
<circle cx="1009.3" cy="590.8" r="12.3" fill="#087d1a"/>
<line x1="762.7" y1="89" x2="871.8" y2="184.5" stroke="#2a6efb" stroke-width="1.0" />
<line x1="975.8" y1="127.4" x2="985" y2="171.4" stroke="#be0000" stroke-width="2.0" />
<line x1="919.5" y1="155.5" x2="961.5" y2="174.8" stroke="#087d1a" stroke-width="2.4" />
<text x="700.5" y="82.5" font-size="25.1" fill="#2a6efb" stroke="#2a6efb" stroke-width="0.31" textLength="106.1" lengthAdjust="spacingAndGlyphs" >HD7924b</text>
<text x="873.4" y="79.6" font-size="25.1" fill="#be0000" stroke="#be0000" stroke-width="0.31" textLength="41.7" lengthAdjust="spacingAndGlyphs" >78b</text>
<text x="824.5" y="137.8" font-size="25.1" fill="#ff8c1a" stroke="#ff8c1a" stroke-width="0.31" textLength="55.2" lengthAdjust="spacingAndGlyphs" >109b</text>
<text x="706.7" y="166.7" font-size="25.1" fill="#be0000" stroke="#be0000" stroke-width="0.31" textLength="55.2" lengthAdjust="spacingAndGlyphs" >106b</text>
<text x="775.4" y="202.9" font-size="25.1" fill="#ff8c1a" stroke="#ff8c1a" stroke-width="0.31" textLength="54.2" lengthAdjust="spacingAndGlyphs" >100c</text>
<text x="889.2" y="152.9" font-size="25.1" fill="#087d1a" stroke="#087d1a" stroke-width="0.31" textLength="40.5" lengthAdjust="spacingAndGlyphs" >36c</text>
<text x="945.2" y="61.1" font-size="25.1" fill="#be0000" stroke="#be0000" stroke-width="0.31" textLength="41.6" lengthAdjust="spacingAndGlyphs" >10b</text>
<text x="932.1" y="132.2" font-size="25.1" fill="#be0000" stroke="#be0000" stroke-width="0.31" textLength="41.9" lengthAdjust="spacingAndGlyphs" >36b</text>
<text x="667.6" y="270.7" font-size="25.1" fill="#be0000" stroke="#be0000" stroke-width="0.31" textLength="54.8" lengthAdjust="spacingAndGlyphs" >138b</text>
<text x="756.6" y="279.6" font-size="25.1" fill="#087d1a" stroke="#087d1a" stroke-width="0.31" textLength="41" lengthAdjust="spacingAndGlyphs" >51b</text>
<text x="790.4" y="304" font-size="25.1" fill="#2a6efb" stroke="#2a6efb" stroke-width="0.31" textLength="40.1" lengthAdjust="spacingAndGlyphs" >51c</text>
<text x="791.2" y="328.9" font-size="25.1" fill="#be0000" stroke="#be0000" stroke-width="0.31" textLength="54.1" lengthAdjust="spacingAndGlyphs" >138d</text>
<text x="985.4" y="353.7" font-size="25.1" fill="#be0000" stroke="#be0000" stroke-width="0.31" textLength="53.6" lengthAdjust="spacingAndGlyphs" >138c</text>
<text x="1003.9" y="388" font-size="25.1" fill="#b8960c" stroke="#b8960c" stroke-width="0.31" textLength="74.7" lengthAdjust="spacingAndGlyphs" >10 Myr</text>
<text x="1002.1" y="418.9" font-size="25.1" fill="#b8960c" stroke="#b8960c" stroke-width="0.31" textLength="89.1" lengthAdjust="spacingAndGlyphs" >100 Myr</text>
<text x="1008.5" y="455.6" font-size="31.9" fill="#b8960c" stroke="#b8960c" stroke-width="0.40" textLength="140" lengthAdjust="spacingAndGlyphs" >Proxima b</text>
<text x="323.9" y="221.5" font-size="25.1" fill="#4d4d4d" stroke="#4d4d4d" stroke-width="0.31" textLength="75.7" lengthAdjust="spacingAndGlyphs" >10 Myr</text>
<text x="310.3" y="252.4" font-size="25.1" fill="#4d4d4d" stroke="#4d4d4d" stroke-width="0.31" textLength="89.2" lengthAdjust="spacingAndGlyphs" >100 Myr</text>
<text x="280.6" y="283.3" font-size="25.1" fill="#4d4d4d" stroke="#4d4d4d" stroke-width="0.31" textLength="117" lengthAdjust="spacingAndGlyphs" >Trappist 1f</text>
<text x="638.1" y="313.6" font-size="28.6" fill="#a3a3a3" stroke="#a3a3a3" stroke-width="0.36" textLength="99.6" lengthAdjust="spacingAndGlyphs" >Mercury</text>
<text x="579.1" y="347.8" font-size="28.4" fill="#a3a3a3" stroke="#a3a3a3" stroke-width="0.35" textLength="70.7" lengthAdjust="spacingAndGlyphs" >Moon</text>
<text x="180.7" y="400.3" font-size="31.9" fill="#a3a3a3" stroke="#a3a3a3" stroke-width="0.40" textLength="208.6" lengthAdjust="spacingAndGlyphs" >More Asteroids</text>
<text x="404.4" y="406.3" font-size="25.1" fill="#a3a3a3" stroke="#a3a3a3" stroke-width="0.31" textLength="62" lengthAdjust="spacingAndGlyphs" >Vesta</text>
<text x="395" y="439.7" font-size="25.1" fill="#a3a3a3" stroke="#a3a3a3" stroke-width="0.31" textLength="68" lengthAdjust="spacingAndGlyphs" >Pallas</text>
<text x="501" y="412.8" font-size="25.1" fill="#a3a3a3" stroke="#a3a3a3" stroke-width="0.31" textLength="67" lengthAdjust="spacingAndGlyphs" >Ceres</text>
<text x="327.9" y="502.7" font-size="25.1" fill="#a3a3a3" stroke="#a3a3a3" stroke-width="0.31" textLength="73.4" lengthAdjust="spacingAndGlyphs" >Hektor</text>
<text x="353.6" y="532.7" font-size="25.1" fill="#a3a3a3" stroke="#a3a3a3" stroke-width="0.31" textLength="82.6" lengthAdjust="spacingAndGlyphs" >Iapetus</text>
<text x="473.1" y="529.5" font-size="25.1" fill="#a3a3a3" stroke="#a3a3a3" stroke-width="0.31" textLength="59.3" lengthAdjust="spacingAndGlyphs" >Rhea</text>
<text x="543.5" y="483.3" font-size="25.1" fill="#a3a3a3" stroke="#a3a3a3" stroke-width="0.31" textLength="80.3" lengthAdjust="spacingAndGlyphs" >Europa</text>
<text x="698.6" y="483.5" font-size="25.1" fill="#a3a3a3" stroke="#a3a3a3" stroke-width="0.31" textLength="121.8" lengthAdjust="spacingAndGlyphs" >Ganymede</text>
<text x="694.2" y="394.1" font-size="28.2" fill="#800000" stroke="#800000" stroke-width="0.35" textLength="62.3" lengthAdjust="spacingAndGlyphs" >Mars</text>
<text x="778.9" y="429.7" font-size="31.7" fill="#dd0806" stroke="#dd0806" stroke-width="0.39" textLength="86.5" lengthAdjust="spacingAndGlyphs" >Venus</text>
<text x="877.8" y="459.5" font-size="31.3" fill="#dd0806" stroke="#dd0806" stroke-width="0.39" textLength="73.9" lengthAdjust="spacingAndGlyphs" >Earth</text>
<text x="691.3" y="548.7" font-size="31.9" fill="#dd0806" stroke="#dd0806" stroke-width="0.40" textLength="69.7" lengthAdjust="spacingAndGlyphs" >Titan</text>
<text x="600.2" y="597.9" font-size="31.3" fill="#800000" stroke="#800000" stroke-width="0.39" textLength="79.3" lengthAdjust="spacingAndGlyphs" >Triton</text>
<text x="594.6" y="633.9" font-size="28.2" fill="#800000" stroke="#800000" stroke-width="0.35" textLength="64.3" lengthAdjust="spacingAndGlyphs" >Pluto</text>
<text x="596.2" y="668.8" font-size="27.8" fill="#9618d4" stroke="#9618d4" stroke-width="0.35" textLength="48.5" lengthAdjust="spacingAndGlyphs" >Eris</text>
<text x="1169.1" y="511.6" font-size="28.8" fill="#2a6efb" stroke="#2a6efb" stroke-width="0.36" textLength="82.8" lengthAdjust="spacingAndGlyphs" >Jupiter</text>
<text x="1076.2" y="557.9" font-size="28.8" fill="#2a6efb" stroke="#2a6efb" stroke-width="0.36" textLength="82.9" lengthAdjust="spacingAndGlyphs" >Saturn</text>
<text x="878.5" y="588.6" font-size="28.6" fill="#087d1a" stroke="#087d1a" stroke-width="0.36" textLength="89.5" lengthAdjust="spacingAndGlyphs" >Uranus</text>
<text x="1030.2" y="628.5" font-size="28.7" fill="#087d1a" stroke="#087d1a" stroke-width="0.36" textLength="106.2" lengthAdjust="spacingAndGlyphs" >Neptune</text>
<text x="211.1" y="609.6" font-size="25.1" fill="#9618d4" stroke="#9618d4" stroke-width="0.31" textLength="78.3" lengthAdjust="spacingAndGlyphs" >Varuna</text>
<text x="291.2" y="597.4" font-size="25.1" fill="#9618d4" stroke="#9618d4" stroke-width="0.31" textLength="66.5" lengthAdjust="spacingAndGlyphs" >Orcus</text>
<text x="339" y="578.9" font-size="25.1" fill="#9618d4" stroke="#9618d4" stroke-width="0.31" textLength="81.5" lengthAdjust="spacingAndGlyphs" >Charon</text>
<text x="532.7" y="699.4" font-size="25.1" fill="#9618d4" stroke="#9618d4" stroke-width="0.31" textLength="93.8" lengthAdjust="spacingAndGlyphs" >Haumea</text>
<text x="510.1" y="727.1" font-size="25.1" fill="#9618d4" stroke="#9618d4" stroke-width="0.31" textLength="122" lengthAdjust="spacingAndGlyphs" >MakeMake</text>
<text x="452.9" y="748.8" font-size="25.1" fill="#9618d4" stroke="#9618d4" stroke-width="0.31" textLength="82.4" lengthAdjust="spacingAndGlyphs" >Quaoar</text>
<text x="442.5" y="810" font-size="25.1" fill="#9618d4" stroke="#9618d4" stroke-width="0.31" textLength="70.5" lengthAdjust="spacingAndGlyphs" >Sedna</text>
<text x="211" y="763.9" font-size="25.1" fill="#9618d4" stroke="#9618d4" stroke-width="0.31" textLength="132.6" lengthAdjust="spacingAndGlyphs" >2000CR105</text>
<text x="1182.1" y="286.1" font-size="31.9" fill="#2a6efb" stroke="#2a6efb" stroke-width="0.40" textLength="68.2" lengthAdjust="spacingAndGlyphs" >extra</text>
<text x="1251.6" y="286.1" font-size="31.9" fill="#087d1a" stroke="#087d1a" stroke-width="0.40" textLength="66.8" lengthAdjust="spacingAndGlyphs" >solar</text>
<text x="1200.3" y="316.7" font-size="31.9" fill="#ff8c1a" stroke="#ff8c1a" stroke-width="0.40" textLength="40.8" lengthAdjust="spacingAndGlyphs" >pla</text>
<text x="1242.3" y="316.7" font-size="31.9" fill="#be0000" stroke="#be0000" stroke-width="0.40" textLength="58.2" lengthAdjust="spacingAndGlyphs" >nets</text>
<text x="187.2" y="344.6" font-size="25.6" fill="#5810c8" stroke="#5810c8" stroke-width="0.32" textLength="17.8" lengthAdjust="spacingAndGlyphs" >H</text>
<text x="205.1" y="355.7" font-size="14.4" fill="#5810c8" stroke="#5810c8" stroke-width="0.18" textLength="8.8" lengthAdjust="spacingAndGlyphs" >2</text>
<text x="213.4" y="344.6" font-size="25.6" fill="#5810c8" stroke="#5810c8" stroke-width="0.32" textLength="257.6" lengthAdjust="spacingAndGlyphs" >O greenhouse runaway</text>
<text x="615.7" y="421.2" font-size="28.2" fill="#648cf5" stroke="#648cf5" stroke-width="0.35" textLength="19.6" lengthAdjust="spacingAndGlyphs" >H</text>
<text x="636" y="433.6" font-size="17.2" fill="#648cf5" stroke="#648cf5" stroke-width="0.21" textLength="10.5" lengthAdjust="spacingAndGlyphs" >2</text>
<text x="646.9" y="421.2" font-size="28.2" fill="#648cf5" stroke="#648cf5" stroke-width="0.35" textLength="22" lengthAdjust="spacingAndGlyphs" >O</text>
<text x="219.2" y="671.3" font-size="29.3" fill="#000" stroke="#000" stroke-width="0.36" textLength="41" lengthAdjust="spacingAndGlyphs" >CH</text>
<text x="259.2" y="683.6" font-size="17.8" fill="#000" stroke="#000" stroke-width="0.22" textLength="10.7" lengthAdjust="spacingAndGlyphs" >4</text>
<text x="274.8" y="711.9" font-size="29.3" fill="#94b82c" stroke="#94b82c" stroke-width="0.36" textLength="21.1" lengthAdjust="spacingAndGlyphs" >N</text>
<text x="295.2" y="724" font-size="17.8" fill="#94b82c" stroke="#94b82c" stroke-width="0.22" textLength="10.6" lengthAdjust="spacingAndGlyphs" >2</text>
<line x1="279.7" y1="832.2" x2="279.7" y2="821.8" stroke="#0000cd" stroke-width="2.5" />
<line x1="279.7" y1="2.5" x2="279.7" y2="12.9" stroke="#0000cd" stroke-width="2.5" />
<line x1="342" y1="832.2" x2="342" y2="821.8" stroke="#0000cd" stroke-width="2.5" />
<line x1="342" y1="2.5" x2="342" y2="12.9" stroke="#0000cd" stroke-width="2.5" />
<line x1="386.2" y1="832.2" x2="386.2" y2="821.8" stroke="#0000cd" stroke-width="2.5" />
<line x1="386.2" y1="2.5" x2="386.2" y2="12.9" stroke="#0000cd" stroke-width="2.5" />
<line x1="420.5" y1="832.2" x2="420.5" y2="821.8" stroke="#0000cd" stroke-width="2.5" />
<line x1="420.5" y1="2.5" x2="420.5" y2="12.9" stroke="#0000cd" stroke-width="2.5" />
<line x1="448.5" y1="832.2" x2="448.5" y2="821.8" stroke="#0000cd" stroke-width="2.5" />
<line x1="448.5" y1="2.5" x2="448.5" y2="12.9" stroke="#0000cd" stroke-width="2.5" />
<line x1="472.1" y1="832.2" x2="472.1" y2="821.8" stroke="#0000cd" stroke-width="2.5" />
<line x1="472.1" y1="2.5" x2="472.1" y2="12.9" stroke="#0000cd" stroke-width="2.5" />
<line x1="492.6" y1="832.2" x2="492.6" y2="821.8" stroke="#0000cd" stroke-width="2.5" />
<line x1="492.6" y1="2.5" x2="492.6" y2="12.9" stroke="#0000cd" stroke-width="2.5" />
<line x1="510.7" y1="832.2" x2="510.7" y2="821.8" stroke="#0000cd" stroke-width="2.5" />
<line x1="510.7" y1="2.5" x2="510.7" y2="12.9" stroke="#0000cd" stroke-width="2.5" />
<line x1="526.9" y1="832.2" x2="526.9" y2="812.2" stroke="#0000cd" stroke-width="2.5" />
<line x1="526.9" y1="2.5" x2="526.9" y2="22.5" stroke="#0000cd" stroke-width="2.5" />
<line x1="633.3" y1="832.2" x2="633.3" y2="821.8" stroke="#0000cd" stroke-width="2.5" />
<line x1="633.3" y1="2.5" x2="633.3" y2="12.9" stroke="#0000cd" stroke-width="2.5" />
<line x1="695.6" y1="832.2" x2="695.6" y2="821.8" stroke="#0000cd" stroke-width="2.5" />
<line x1="695.6" y1="2.5" x2="695.6" y2="12.9" stroke="#0000cd" stroke-width="2.5" />
<line x1="739.8" y1="832.2" x2="739.8" y2="821.8" stroke="#0000cd" stroke-width="2.5" />
<line x1="739.8" y1="2.5" x2="739.8" y2="12.9" stroke="#0000cd" stroke-width="2.5" />
<line x1="774.1" y1="832.2" x2="774.1" y2="821.8" stroke="#0000cd" stroke-width="2.5" />
<line x1="774.1" y1="2.5" x2="774.1" y2="12.9" stroke="#0000cd" stroke-width="2.5" />
<line x1="802.1" y1="832.2" x2="802.1" y2="821.8" stroke="#0000cd" stroke-width="2.5" />
<line x1="802.1" y1="2.5" x2="802.1" y2="12.9" stroke="#0000cd" stroke-width="2.5" />
<line x1="825.7" y1="832.2" x2="825.7" y2="821.8" stroke="#0000cd" stroke-width="2.5" />
<line x1="825.7" y1="2.5" x2="825.7" y2="12.9" stroke="#0000cd" stroke-width="2.5" />
<line x1="846.2" y1="832.2" x2="846.2" y2="821.8" stroke="#0000cd" stroke-width="2.5" />
<line x1="846.2" y1="2.5" x2="846.2" y2="12.9" stroke="#0000cd" stroke-width="2.5" />
<line x1="864.3" y1="832.2" x2="864.3" y2="821.8" stroke="#0000cd" stroke-width="2.5" />
<line x1="864.3" y1="2.5" x2="864.3" y2="12.9" stroke="#0000cd" stroke-width="2.5" />
<line x1="880.5" y1="832.2" x2="880.5" y2="812.2" stroke="#0000cd" stroke-width="2.5" />
<line x1="880.5" y1="2.5" x2="880.5" y2="22.5" stroke="#0000cd" stroke-width="2.5" />
<line x1="986.9" y1="832.2" x2="986.9" y2="821.8" stroke="#0000cd" stroke-width="2.5" />
<line x1="986.9" y1="2.5" x2="986.9" y2="12.9" stroke="#0000cd" stroke-width="2.5" />
<line x1="1049.2" y1="832.2" x2="1049.2" y2="821.8" stroke="#0000cd" stroke-width="2.5" />
<line x1="1049.2" y1="2.5" x2="1049.2" y2="12.9" stroke="#0000cd" stroke-width="2.5" />
<line x1="1093.4" y1="832.2" x2="1093.4" y2="821.8" stroke="#0000cd" stroke-width="2.5" />
<line x1="1093.4" y1="2.5" x2="1093.4" y2="12.9" stroke="#0000cd" stroke-width="2.5" />
<line x1="1127.7" y1="832.2" x2="1127.7" y2="821.8" stroke="#0000cd" stroke-width="2.5" />
<line x1="1127.7" y1="2.5" x2="1127.7" y2="12.9" stroke="#0000cd" stroke-width="2.5" />
<line x1="1155.7" y1="832.2" x2="1155.7" y2="821.8" stroke="#0000cd" stroke-width="2.5" />
<line x1="1155.7" y1="2.5" x2="1155.7" y2="12.9" stroke="#0000cd" stroke-width="2.5" />
<line x1="1179.3" y1="832.2" x2="1179.3" y2="821.8" stroke="#0000cd" stroke-width="2.5" />
<line x1="1179.3" y1="2.5" x2="1179.3" y2="12.9" stroke="#0000cd" stroke-width="2.5" />
<line x1="1199.8" y1="832.2" x2="1199.8" y2="821.8" stroke="#0000cd" stroke-width="2.5" />
<line x1="1199.8" y1="2.5" x2="1199.8" y2="12.9" stroke="#0000cd" stroke-width="2.5" />
<line x1="1217.9" y1="832.2" x2="1217.9" y2="821.8" stroke="#0000cd" stroke-width="2.5" />
<line x1="1217.9" y1="2.5" x2="1217.9" y2="12.9" stroke="#0000cd" stroke-width="2.5" />
<line x1="1234.1" y1="832.2" x2="1234.1" y2="812.2" stroke="#0000cd" stroke-width="2.5" />
<line x1="1234.1" y1="2.5" x2="1234.1" y2="22.5" stroke="#0000cd" stroke-width="2.5" />
<line x1="173.3" y1="808.4" x2="183.7" y2="808.4" stroke="#0000cd" stroke-width="2.5" />
<line x1="1340.6" y1="808.4" x2="1330.2" y2="808.4" stroke="#0000cd" stroke-width="2.5" />
<line x1="173.3" y1="794.4" x2="183.7" y2="794.4" stroke="#0000cd" stroke-width="2.5" />
<line x1="1340.6" y1="794.4" x2="1330.2" y2="794.4" stroke="#0000cd" stroke-width="2.5" />
<line x1="173.3" y1="784.5" x2="183.7" y2="784.5" stroke="#0000cd" stroke-width="2.5" />
<line x1="1340.6" y1="784.5" x2="1330.2" y2="784.5" stroke="#0000cd" stroke-width="2.5" />
<line x1="173.3" y1="776.8" x2="183.7" y2="776.8" stroke="#0000cd" stroke-width="2.5" />
<line x1="1340.6" y1="776.8" x2="1330.2" y2="776.8" stroke="#0000cd" stroke-width="2.5" />
<line x1="173.3" y1="770.6" x2="183.7" y2="770.6" stroke="#0000cd" stroke-width="2.5" />
<line x1="1340.6" y1="770.6" x2="1330.2" y2="770.6" stroke="#0000cd" stroke-width="2.5" />
<line x1="173.3" y1="765.3" x2="183.7" y2="765.3" stroke="#0000cd" stroke-width="2.5" />
<line x1="1340.6" y1="765.3" x2="1330.2" y2="765.3" stroke="#0000cd" stroke-width="2.5" />
<line x1="173.3" y1="760.7" x2="183.7" y2="760.7" stroke="#0000cd" stroke-width="2.5" />
<line x1="1340.6" y1="760.7" x2="1330.2" y2="760.7" stroke="#0000cd" stroke-width="2.5" />
<line x1="173.3" y1="756.6" x2="183.7" y2="756.6" stroke="#0000cd" stroke-width="2.5" />
<line x1="1340.6" y1="756.6" x2="1330.2" y2="756.6" stroke="#0000cd" stroke-width="2.5" />
<line x1="173.3" y1="753" x2="192.9" y2="753" stroke="#0000cd" stroke-width="2.5" />
<line x1="1340.6" y1="753" x2="1321" y2="753" stroke="#0000cd" stroke-width="2.5" />
<line x1="173.3" y1="729.2" x2="183.7" y2="729.2" stroke="#0000cd" stroke-width="2.5" />
<line x1="1340.6" y1="729.2" x2="1330.2" y2="729.2" stroke="#0000cd" stroke-width="2.5" />
<line x1="173.3" y1="715.2" x2="183.7" y2="715.2" stroke="#0000cd" stroke-width="2.5" />
<line x1="1340.6" y1="715.2" x2="1330.2" y2="715.2" stroke="#0000cd" stroke-width="2.5" />
<line x1="173.3" y1="705.3" x2="183.7" y2="705.3" stroke="#0000cd" stroke-width="2.5" />
<line x1="1340.6" y1="705.3" x2="1330.2" y2="705.3" stroke="#0000cd" stroke-width="2.5" />
<line x1="173.3" y1="697.7" x2="183.7" y2="697.7" stroke="#0000cd" stroke-width="2.5" />
<line x1="1340.6" y1="697.7" x2="1330.2" y2="697.7" stroke="#0000cd" stroke-width="2.5" />
<line x1="173.3" y1="691.4" x2="183.7" y2="691.4" stroke="#0000cd" stroke-width="2.5" />
<line x1="1340.6" y1="691.4" x2="1330.2" y2="691.4" stroke="#0000cd" stroke-width="2.5" />
<line x1="173.3" y1="686.1" x2="183.7" y2="686.1" stroke="#0000cd" stroke-width="2.5" />
<line x1="1340.6" y1="686.1" x2="1330.2" y2="686.1" stroke="#0000cd" stroke-width="2.5" />
<line x1="173.3" y1="681.5" x2="183.7" y2="681.5" stroke="#0000cd" stroke-width="2.5" />
<line x1="1340.6" y1="681.5" x2="1330.2" y2="681.5" stroke="#0000cd" stroke-width="2.5" />
<line x1="173.3" y1="677.4" x2="183.7" y2="677.4" stroke="#0000cd" stroke-width="2.5" />
<line x1="1340.6" y1="677.4" x2="1330.2" y2="677.4" stroke="#0000cd" stroke-width="2.5" />
<line x1="173.3" y1="673.8" x2="192.9" y2="673.8" stroke="#0000cd" stroke-width="2.5" />
<line x1="1340.6" y1="673.8" x2="1321" y2="673.8" stroke="#0000cd" stroke-width="2.5" />
<line x1="173.3" y1="650" x2="183.7" y2="650" stroke="#0000cd" stroke-width="2.5" />
<line x1="1340.6" y1="650" x2="1330.2" y2="650" stroke="#0000cd" stroke-width="2.5" />
<line x1="173.3" y1="636" x2="183.7" y2="636" stroke="#0000cd" stroke-width="2.5" />
<line x1="1340.6" y1="636" x2="1330.2" y2="636" stroke="#0000cd" stroke-width="2.5" />
<line x1="173.3" y1="626.1" x2="183.7" y2="626.1" stroke="#0000cd" stroke-width="2.5" />
<line x1="1340.6" y1="626.1" x2="1330.2" y2="626.1" stroke="#0000cd" stroke-width="2.5" />
<line x1="173.3" y1="618.5" x2="183.7" y2="618.5" stroke="#0000cd" stroke-width="2.5" />
<line x1="1340.6" y1="618.5" x2="1330.2" y2="618.5" stroke="#0000cd" stroke-width="2.5" />
<line x1="173.3" y1="612.2" x2="183.7" y2="612.2" stroke="#0000cd" stroke-width="2.5" />
<line x1="1340.6" y1="612.2" x2="1330.2" y2="612.2" stroke="#0000cd" stroke-width="2.5" />
<line x1="173.3" y1="606.9" x2="183.7" y2="606.9" stroke="#0000cd" stroke-width="2.5" />
<line x1="1340.6" y1="606.9" x2="1330.2" y2="606.9" stroke="#0000cd" stroke-width="2.5" />
<line x1="173.3" y1="602.3" x2="183.7" y2="602.3" stroke="#0000cd" stroke-width="2.5" />
<line x1="1340.6" y1="602.3" x2="1330.2" y2="602.3" stroke="#0000cd" stroke-width="2.5" />
<line x1="173.3" y1="598.3" x2="183.7" y2="598.3" stroke="#0000cd" stroke-width="2.5" />
<line x1="1340.6" y1="598.3" x2="1330.2" y2="598.3" stroke="#0000cd" stroke-width="2.5" />
<line x1="173.3" y1="594.6" x2="192.9" y2="594.6" stroke="#0000cd" stroke-width="2.5" />
<line x1="1340.6" y1="594.6" x2="1321" y2="594.6" stroke="#0000cd" stroke-width="2.5" />
<line x1="173.3" y1="570.8" x2="183.7" y2="570.8" stroke="#0000cd" stroke-width="2.5" />
<line x1="1340.6" y1="570.8" x2="1330.2" y2="570.8" stroke="#0000cd" stroke-width="2.5" />
<line x1="173.3" y1="556.8" x2="183.7" y2="556.8" stroke="#0000cd" stroke-width="2.5" />
<line x1="1340.6" y1="556.8" x2="1330.2" y2="556.8" stroke="#0000cd" stroke-width="2.5" />
<line x1="173.3" y1="547" x2="183.7" y2="547" stroke="#0000cd" stroke-width="2.5" />
<line x1="1340.6" y1="547" x2="1330.2" y2="547" stroke="#0000cd" stroke-width="2.5" />
<line x1="173.3" y1="539.3" x2="183.7" y2="539.3" stroke="#0000cd" stroke-width="2.5" />
<line x1="1340.6" y1="539.3" x2="1330.2" y2="539.3" stroke="#0000cd" stroke-width="2.5" />
<line x1="173.3" y1="533" x2="183.7" y2="533" stroke="#0000cd" stroke-width="2.5" />
<line x1="1340.6" y1="533" x2="1330.2" y2="533" stroke="#0000cd" stroke-width="2.5" />
<line x1="173.3" y1="527.7" x2="183.7" y2="527.7" stroke="#0000cd" stroke-width="2.5" />
<line x1="1340.6" y1="527.7" x2="1330.2" y2="527.7" stroke="#0000cd" stroke-width="2.5" />
<line x1="173.3" y1="523.1" x2="183.7" y2="523.1" stroke="#0000cd" stroke-width="2.5" />
<line x1="1340.6" y1="523.1" x2="1330.2" y2="523.1" stroke="#0000cd" stroke-width="2.5" />
<line x1="173.3" y1="519.1" x2="183.7" y2="519.1" stroke="#0000cd" stroke-width="2.5" />
<line x1="1340.6" y1="519.1" x2="1330.2" y2="519.1" stroke="#0000cd" stroke-width="2.5" />
<line x1="173.3" y1="515.4" x2="192.9" y2="515.4" stroke="#0000cd" stroke-width="2.5" />
<line x1="1340.6" y1="515.4" x2="1321" y2="515.4" stroke="#0000cd" stroke-width="2.5" />
<line x1="173.3" y1="491.6" x2="183.7" y2="491.6" stroke="#0000cd" stroke-width="2.5" />
<line x1="1340.6" y1="491.6" x2="1330.2" y2="491.6" stroke="#0000cd" stroke-width="2.5" />
<line x1="173.3" y1="477.7" x2="183.7" y2="477.7" stroke="#0000cd" stroke-width="2.5" />
<line x1="1340.6" y1="477.7" x2="1330.2" y2="477.7" stroke="#0000cd" stroke-width="2.5" />
<line x1="173.3" y1="467.8" x2="183.7" y2="467.8" stroke="#0000cd" stroke-width="2.5" />
<line x1="1340.6" y1="467.8" x2="1330.2" y2="467.8" stroke="#0000cd" stroke-width="2.5" />
<line x1="173.3" y1="460.1" x2="183.7" y2="460.1" stroke="#0000cd" stroke-width="2.5" />
<line x1="1340.6" y1="460.1" x2="1330.2" y2="460.1" stroke="#0000cd" stroke-width="2.5" />
<line x1="173.3" y1="453.8" x2="183.7" y2="453.8" stroke="#0000cd" stroke-width="2.5" />
<line x1="1340.6" y1="453.8" x2="1330.2" y2="453.8" stroke="#0000cd" stroke-width="2.5" />
<line x1="173.3" y1="448.5" x2="183.7" y2="448.5" stroke="#0000cd" stroke-width="2.5" />
<line x1="1340.6" y1="448.5" x2="1330.2" y2="448.5" stroke="#0000cd" stroke-width="2.5" />
<line x1="173.3" y1="443.9" x2="183.7" y2="443.9" stroke="#0000cd" stroke-width="2.5" />
<line x1="1340.6" y1="443.9" x2="1330.2" y2="443.9" stroke="#0000cd" stroke-width="2.5" />
<line x1="173.3" y1="439.9" x2="183.7" y2="439.9" stroke="#0000cd" stroke-width="2.5" />
<line x1="1340.6" y1="439.9" x2="1330.2" y2="439.9" stroke="#0000cd" stroke-width="2.5" />
<line x1="173.3" y1="436.2" x2="192.9" y2="436.2" stroke="#0000cd" stroke-width="2.5" />
<line x1="1340.6" y1="436.2" x2="1321" y2="436.2" stroke="#0000cd" stroke-width="2.5" />
<line x1="173.3" y1="412.4" x2="183.7" y2="412.4" stroke="#0000cd" stroke-width="2.5" />
<line x1="1340.6" y1="412.4" x2="1330.2" y2="412.4" stroke="#0000cd" stroke-width="2.5" />
<line x1="173.3" y1="398.5" x2="183.7" y2="398.5" stroke="#0000cd" stroke-width="2.5" />
<line x1="1340.6" y1="398.5" x2="1330.2" y2="398.5" stroke="#0000cd" stroke-width="2.5" />
<line x1="173.3" y1="388.6" x2="183.7" y2="388.6" stroke="#0000cd" stroke-width="2.5" />
<line x1="1340.6" y1="388.6" x2="1330.2" y2="388.6" stroke="#0000cd" stroke-width="2.5" />
<line x1="173.3" y1="380.9" x2="183.7" y2="380.9" stroke="#0000cd" stroke-width="2.5" />
<line x1="1340.6" y1="380.9" x2="1330.2" y2="380.9" stroke="#0000cd" stroke-width="2.5" />
<line x1="173.3" y1="374.6" x2="183.7" y2="374.6" stroke="#0000cd" stroke-width="2.5" />
<line x1="1340.6" y1="374.6" x2="1330.2" y2="374.6" stroke="#0000cd" stroke-width="2.5" />
<line x1="173.3" y1="369.3" x2="183.7" y2="369.3" stroke="#0000cd" stroke-width="2.5" />
<line x1="1340.6" y1="369.3" x2="1330.2" y2="369.3" stroke="#0000cd" stroke-width="2.5" />
<line x1="173.3" y1="364.7" x2="183.7" y2="364.7" stroke="#0000cd" stroke-width="2.5" />
<line x1="1340.6" y1="364.7" x2="1330.2" y2="364.7" stroke="#0000cd" stroke-width="2.5" />
<line x1="173.3" y1="360.7" x2="183.7" y2="360.7" stroke="#0000cd" stroke-width="2.5" />
<line x1="1340.6" y1="360.7" x2="1330.2" y2="360.7" stroke="#0000cd" stroke-width="2.5" />
<line x1="173.3" y1="357.1" x2="192.9" y2="357.1" stroke="#0000cd" stroke-width="2.5" />
<line x1="1340.6" y1="357.1" x2="1321" y2="357.1" stroke="#0000cd" stroke-width="2.5" />
<line x1="173.3" y1="333.2" x2="183.7" y2="333.2" stroke="#0000cd" stroke-width="2.5" />
<line x1="1340.6" y1="333.2" x2="1330.2" y2="333.2" stroke="#0000cd" stroke-width="2.5" />
<line x1="173.3" y1="319.3" x2="183.7" y2="319.3" stroke="#0000cd" stroke-width="2.5" />
<line x1="1340.6" y1="319.3" x2="1330.2" y2="319.3" stroke="#0000cd" stroke-width="2.5" />
<line x1="173.3" y1="309.4" x2="183.7" y2="309.4" stroke="#0000cd" stroke-width="2.5" />
<line x1="1340.6" y1="309.4" x2="1330.2" y2="309.4" stroke="#0000cd" stroke-width="2.5" />
<line x1="173.3" y1="301.7" x2="183.7" y2="301.7" stroke="#0000cd" stroke-width="2.5" />
<line x1="1340.6" y1="301.7" x2="1330.2" y2="301.7" stroke="#0000cd" stroke-width="2.5" />
<line x1="173.3" y1="295.4" x2="183.7" y2="295.4" stroke="#0000cd" stroke-width="2.5" />
<line x1="1340.6" y1="295.4" x2="1330.2" y2="295.4" stroke="#0000cd" stroke-width="2.5" />
<line x1="173.3" y1="290.1" x2="183.7" y2="290.1" stroke="#0000cd" stroke-width="2.5" />
<line x1="1340.6" y1="290.1" x2="1330.2" y2="290.1" stroke="#0000cd" stroke-width="2.5" />
<line x1="173.3" y1="285.5" x2="183.7" y2="285.5" stroke="#0000cd" stroke-width="2.5" />
<line x1="1340.6" y1="285.5" x2="1330.2" y2="285.5" stroke="#0000cd" stroke-width="2.5" />
<line x1="173.3" y1="281.5" x2="183.7" y2="281.5" stroke="#0000cd" stroke-width="2.5" />
<line x1="1340.6" y1="281.5" x2="1330.2" y2="281.5" stroke="#0000cd" stroke-width="2.5" />
<line x1="173.3" y1="277.9" x2="192.9" y2="277.9" stroke="#0000cd" stroke-width="2.5" />
<line x1="1340.6" y1="277.9" x2="1321" y2="277.9" stroke="#0000cd" stroke-width="2.5" />
<line x1="173.3" y1="254" x2="183.7" y2="254" stroke="#0000cd" stroke-width="2.5" />
<line x1="1340.6" y1="254" x2="1330.2" y2="254" stroke="#0000cd" stroke-width="2.5" />
<line x1="173.3" y1="240.1" x2="183.7" y2="240.1" stroke="#0000cd" stroke-width="2.5" />
<line x1="1340.6" y1="240.1" x2="1330.2" y2="240.1" stroke="#0000cd" stroke-width="2.5" />
<line x1="173.3" y1="230.2" x2="183.7" y2="230.2" stroke="#0000cd" stroke-width="2.5" />
<line x1="1340.6" y1="230.2" x2="1330.2" y2="230.2" stroke="#0000cd" stroke-width="2.5" />
<line x1="173.3" y1="222.5" x2="183.7" y2="222.5" stroke="#0000cd" stroke-width="2.5" />
<line x1="1340.6" y1="222.5" x2="1330.2" y2="222.5" stroke="#0000cd" stroke-width="2.5" />
<line x1="173.3" y1="216.2" x2="183.7" y2="216.2" stroke="#0000cd" stroke-width="2.5" />
<line x1="1340.6" y1="216.2" x2="1330.2" y2="216.2" stroke="#0000cd" stroke-width="2.5" />
<line x1="173.3" y1="210.9" x2="183.7" y2="210.9" stroke="#0000cd" stroke-width="2.5" />
<line x1="1340.6" y1="210.9" x2="1330.2" y2="210.9" stroke="#0000cd" stroke-width="2.5" />
<line x1="173.3" y1="206.4" x2="183.7" y2="206.4" stroke="#0000cd" stroke-width="2.5" />
<line x1="1340.6" y1="206.4" x2="1330.2" y2="206.4" stroke="#0000cd" stroke-width="2.5" />
<line x1="173.3" y1="202.3" x2="183.7" y2="202.3" stroke="#0000cd" stroke-width="2.5" />
<line x1="1340.6" y1="202.3" x2="1330.2" y2="202.3" stroke="#0000cd" stroke-width="2.5" />
<line x1="173.3" y1="198.7" x2="192.9" y2="198.7" stroke="#0000cd" stroke-width="2.5" />
<line x1="1340.6" y1="198.7" x2="1321" y2="198.7" stroke="#0000cd" stroke-width="2.5" />
<line x1="173.3" y1="174.8" x2="183.7" y2="174.8" stroke="#0000cd" stroke-width="2.5" />
<line x1="1340.6" y1="174.8" x2="1330.2" y2="174.8" stroke="#0000cd" stroke-width="2.5" />
<line x1="173.3" y1="160.9" x2="183.7" y2="160.9" stroke="#0000cd" stroke-width="2.5" />
<line x1="1340.6" y1="160.9" x2="1330.2" y2="160.9" stroke="#0000cd" stroke-width="2.5" />
<line x1="173.3" y1="151" x2="183.7" y2="151" stroke="#0000cd" stroke-width="2.5" />
<line x1="1340.6" y1="151" x2="1330.2" y2="151" stroke="#0000cd" stroke-width="2.5" />
<line x1="173.3" y1="143.3" x2="183.7" y2="143.3" stroke="#0000cd" stroke-width="2.5" />
<line x1="1340.6" y1="143.3" x2="1330.2" y2="143.3" stroke="#0000cd" stroke-width="2.5" />
<line x1="173.3" y1="137.1" x2="183.7" y2="137.1" stroke="#0000cd" stroke-width="2.5" />
<line x1="1340.6" y1="137.1" x2="1330.2" y2="137.1" stroke="#0000cd" stroke-width="2.5" />
<line x1="173.3" y1="131.8" x2="183.7" y2="131.8" stroke="#0000cd" stroke-width="2.5" />
<line x1="1340.6" y1="131.8" x2="1330.2" y2="131.8" stroke="#0000cd" stroke-width="2.5" />
<line x1="173.3" y1="127.2" x2="183.7" y2="127.2" stroke="#0000cd" stroke-width="2.5" />
<line x1="1340.6" y1="127.2" x2="1330.2" y2="127.2" stroke="#0000cd" stroke-width="2.5" />
<line x1="173.3" y1="123.1" x2="183.7" y2="123.1" stroke="#0000cd" stroke-width="2.5" />
<line x1="1340.6" y1="123.1" x2="1330.2" y2="123.1" stroke="#0000cd" stroke-width="2.5" />
<line x1="173.3" y1="119.5" x2="192.9" y2="119.5" stroke="#0000cd" stroke-width="2.5" />
<line x1="1340.6" y1="119.5" x2="1321" y2="119.5" stroke="#0000cd" stroke-width="2.5" />
<line x1="173.3" y1="95.7" x2="183.7" y2="95.7" stroke="#0000cd" stroke-width="2.5" />
<line x1="1340.6" y1="95.7" x2="1330.2" y2="95.7" stroke="#0000cd" stroke-width="2.5" />
<line x1="173.3" y1="81.7" x2="183.7" y2="81.7" stroke="#0000cd" stroke-width="2.5" />
<line x1="1340.6" y1="81.7" x2="1330.2" y2="81.7" stroke="#0000cd" stroke-width="2.5" />
<line x1="173.3" y1="71.8" x2="183.7" y2="71.8" stroke="#0000cd" stroke-width="2.5" />
<line x1="1340.6" y1="71.8" x2="1330.2" y2="71.8" stroke="#0000cd" stroke-width="2.5" />
<line x1="173.3" y1="64.1" x2="183.7" y2="64.1" stroke="#0000cd" stroke-width="2.5" />
<line x1="1340.6" y1="64.1" x2="1330.2" y2="64.1" stroke="#0000cd" stroke-width="2.5" />
<line x1="173.3" y1="57.9" x2="183.7" y2="57.9" stroke="#0000cd" stroke-width="2.5" />
<line x1="1340.6" y1="57.9" x2="1330.2" y2="57.9" stroke="#0000cd" stroke-width="2.5" />
<line x1="173.3" y1="52.6" x2="183.7" y2="52.6" stroke="#0000cd" stroke-width="2.5" />
<line x1="1340.6" y1="52.6" x2="1330.2" y2="52.6" stroke="#0000cd" stroke-width="2.5" />
<line x1="173.3" y1="48" x2="183.7" y2="48" stroke="#0000cd" stroke-width="2.5" />
<line x1="1340.6" y1="48" x2="1330.2" y2="48" stroke="#0000cd" stroke-width="2.5" />
<line x1="173.3" y1="43.9" x2="183.7" y2="43.9" stroke="#0000cd" stroke-width="2.5" />
<line x1="1340.6" y1="43.9" x2="1330.2" y2="43.9" stroke="#0000cd" stroke-width="2.5" />
<line x1="173.3" y1="40.3" x2="192.9" y2="40.3" stroke="#0000cd" stroke-width="2.5" />
<line x1="1340.6" y1="40.3" x2="1321" y2="40.3" stroke="#0000cd" stroke-width="2.5" />
<line x1="173.3" y1="16.5" x2="183.7" y2="16.5" stroke="#0000cd" stroke-width="2.5" />
<line x1="1340.6" y1="16.5" x2="1330.2" y2="16.5" stroke="#0000cd" stroke-width="2.5" />
<rect x="173.3" y="2.5" width="1167.3" height="829.7" fill="none" stroke="#0000cd" stroke-width="3.1"/>
<text x="84.9" y="59.9" font-size="48.3" fill="#000" stroke="#000" stroke-width="0.60" textLength="56.6" lengthAdjust="spacingAndGlyphs" >10</text>
<text x="143.2" y="33.8" font-size="31.7" fill="#000" stroke="#000" stroke-width="0.39" textLength="16.9" lengthAdjust="spacingAndGlyphs" >4</text>
<text x="84.9" y="218.3" font-size="48.3" fill="#000" stroke="#000" stroke-width="0.60" textLength="56.6" lengthAdjust="spacingAndGlyphs" >10</text>
<text x="143.2" y="192.2" font-size="31.7" fill="#000" stroke="#000" stroke-width="0.39" textLength="16.9" lengthAdjust="spacingAndGlyphs" >2</text>
<text x="84.9" y="376.7" font-size="48.3" fill="#000" stroke="#000" stroke-width="0.60" textLength="56.6" lengthAdjust="spacingAndGlyphs" >10</text>
<text x="143.2" y="350.6" font-size="31.7" fill="#000" stroke="#000" stroke-width="0.39" textLength="16.9" lengthAdjust="spacingAndGlyphs" >0</text>
<text x="74.4" y="535" font-size="48.3" fill="#000" stroke="#000" stroke-width="0.60" textLength="56.6" lengthAdjust="spacingAndGlyphs" >10</text>
<text x="131.2" y="508.9" font-size="31.7" fill="#000" stroke="#000" stroke-width="0.39" textLength="10.1" lengthAdjust="spacingAndGlyphs" >-</text>
<text x="144" y="508.9" font-size="31.7" fill="#000" stroke="#000" stroke-width="0.39" textLength="16.9" lengthAdjust="spacingAndGlyphs" >2</text>
<text x="74.4" y="693.4" font-size="48.3" fill="#000" stroke="#000" stroke-width="0.60" textLength="56.6" lengthAdjust="spacingAndGlyphs" >10</text>
<text x="131.2" y="667.3" font-size="31.7" fill="#000" stroke="#000" stroke-width="0.39" textLength="10.1" lengthAdjust="spacingAndGlyphs" >-</text>
<text x="144" y="667.3" font-size="31.7" fill="#000" stroke="#000" stroke-width="0.39" textLength="16.9" lengthAdjust="spacingAndGlyphs" >4</text>
<text x="74.4" y="851.8" font-size="48.3" fill="#000" stroke="#000" stroke-width="0.60" textLength="56.6" lengthAdjust="spacingAndGlyphs" >10</text>
<text x="131.2" y="825.7" font-size="31.7" fill="#000" stroke="#000" stroke-width="0.39" textLength="10.1" lengthAdjust="spacingAndGlyphs" >-</text>
<text x="144" y="825.7" font-size="31.7" fill="#000" stroke="#000" stroke-width="0.39" textLength="16.9" lengthAdjust="spacingAndGlyphs" >6</text>
<text x="138" y="885.3" font-size="48.3" fill="#000" stroke="#000" stroke-width="0.60" textLength="62.5" lengthAdjust="spacingAndGlyphs" >0.1</text>
<text x="527.6" y="885.3" font-size="48.3" fill="#000" stroke="#000" stroke-width="0.60" text-anchor="middle" textLength="25.7" lengthAdjust="spacingAndGlyphs" >1</text>
<text x="881.8" y="885.3" font-size="48.3" fill="#000" stroke="#000" stroke-width="0.60" text-anchor="middle" textLength="56.6" lengthAdjust="spacingAndGlyphs" >10</text>
<text x="1235.2" y="885.3" font-size="48.3" fill="#000" stroke="#000" stroke-width="0.60" text-anchor="middle" textLength="85.5" lengthAdjust="spacingAndGlyphs" >100</text>
<text x="477.2" y="955.6" font-size="57.8" fill="#000" stroke="#000" stroke-width="0.72" textLength="557.6" lengthAdjust="spacingAndGlyphs" >Escape Velocity [km/s]</text>
<text x="0" y="0" font-size="57.5" fill="#000" stroke="#000" stroke-width="0.71" textLength="731" lengthAdjust="spacingAndGlyphs" transform="translate(40.6 802) rotate(-90)">I (Insolation Relative to Earth)</text>
</svg></body></html>
